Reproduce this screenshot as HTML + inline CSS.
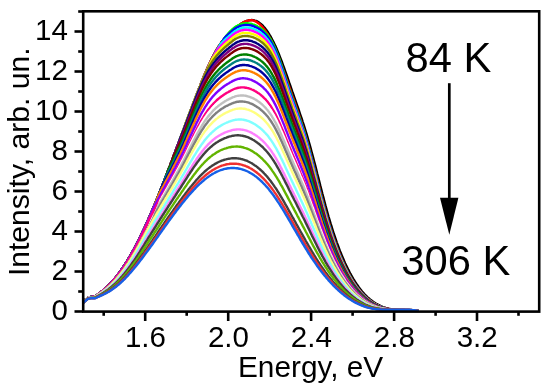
<!DOCTYPE html>
<html><head><meta charset="utf-8"><title>Intensity vs Energy</title>
<style>
html,body{margin:0;padding:0;background:#fff;}
body{width:550px;height:389px;overflow:hidden;}
svg{display:block;}
svg text{font-family:"Liberation Sans",Arial,sans-serif;fill:#000;}
</style></head><body>
<svg width="550" height="389" viewBox="0 0 550 389">
<rect width="550" height="389" fill="#fff"/>
<g fill="none" stroke-width="2.4" stroke-linejoin="round" stroke-linecap="round">
<polyline points="83.8,301.5 84.8,300.4 85.9,299.5 86.9,298.6 88.0,297.9 89.0,297.6 90.0,297.4 91.1,297.2 92.1,297.1 93.1,297.0 94.2,296.9 95.2,296.6 96.3,296.0 97.3,295.2 98.3,294.4 99.4,293.7 100.4,292.9 101.4,292.2 102.5,291.3 103.5,290.4 104.5,289.5 105.6,288.6 106.6,287.6 107.7,286.7 108.7,285.6 109.7,284.5 110.8,283.4 111.8,282.3 112.8,281.1 113.9,279.9 114.9,278.6 116.0,277.3 117.0,276.0 118.0,274.6 119.1,273.2 120.1,271.8 121.1,270.3 122.2,268.8 123.2,267.2 124.3,265.6 125.3,264.0 126.3,262.4 127.4,260.7 128.4,258.9 129.4,257.2 130.5,255.4 131.5,253.6 132.5,251.7 133.6,249.8 134.6,247.9 135.7,245.9 136.7,243.9 137.7,241.9 138.8,239.8 139.8,237.7 140.8,235.6 141.9,233.4 142.9,231.2 144.0,229.0 145.0,226.8 146.0,224.5 147.1,222.2 148.1,219.9 149.1,217.6 150.2,215.2 151.2,212.8 152.3,210.4 153.3,208.0 154.3,205.5 155.4,203.1 156.4,200.6 157.4,198.1 158.5,195.5 159.5,193.0 160.5,190.4 161.6,187.8 162.6,185.2 163.7,182.6 164.7,180.0 165.7,177.3 166.8,174.7 167.8,172.0 168.8,169.3 169.9,166.6 170.9,163.9 172.0,161.1 173.0,158.4 174.0,155.7 175.1,152.9 176.1,150.1 177.1,147.4 178.2,144.6 179.2,141.8 180.3,139.0 181.3,136.2 182.3,133.4 183.4,130.6 184.4,127.7 185.4,124.9 186.5,122.1 187.5,119.3 188.5,116.4 189.6,113.6 190.6,110.8 191.7,108.0 192.7,105.2 193.7,102.4 194.8,99.6 195.8,96.8 196.8,94.1 197.9,91.4 198.9,88.7 200.0,86.1 201.0,83.4 202.0,80.8 203.1,78.3 204.1,75.8 205.1,73.3 206.2,70.9 207.2,68.5 208.2,66.2 209.3,63.9 210.3,61.7 211.4,59.6 212.4,57.5 213.4,55.5 214.5,53.5 215.5,51.7 216.5,49.9 217.6,48.1 218.6,46.5 219.7,44.9 220.7,43.5 221.7,42.0 222.8,40.7 223.8,39.4 224.8,38.2 225.9,37.0 226.9,35.9 228.0,34.8 229.0,33.8 230.0,32.8 231.1,31.8 232.1,30.9 233.1,30.0 234.2,29.0 235.2,28.2 236.2,27.3 237.3,26.5 238.3,25.7 239.4,24.9 240.4,24.2 241.4,23.5 242.5,22.9 243.5,22.3 244.5,21.8 245.6,21.3 246.6,20.9 247.7,20.6 248.7,20.3 249.7,20.2 250.8,20.1 251.8,20.0 252.8,20.1 253.9,20.3 254.9,20.6 256.0,20.9 257.0,21.4 258.0,21.9 259.1,22.6 260.1,23.4 261.1,24.2 262.2,25.2 263.2,26.2 264.2,27.4 265.3,28.6 266.3,30.0 267.4,31.5 268.4,33.0 269.4,34.7 270.5,36.4 271.5,38.3 272.5,40.2 273.6,42.3 274.6,44.4 275.7,46.6 276.7,49.0 277.7,51.4 278.8,54.0 279.8,56.6 280.8,59.2 281.9,62.0 282.9,64.8 284.0,67.7 285.0,70.6 286.0,73.5 287.1,76.5 288.1,79.5 289.1,82.5 290.2,85.5 291.2,88.4 292.2,91.4 293.3,94.4 294.3,97.3 295.4,100.3 296.4,103.3 297.4,106.2 298.5,109.2 299.5,112.3 300.5,115.3 301.6,118.4 302.6,121.6 303.7,124.8 304.7,128.1 305.7,131.4 306.8,134.8 307.8,138.3 308.8,141.9 309.9,145.6 310.9,149.3 311.9,153.2 313.0,157.1 314.0,161.0 315.1,165.0 316.1,169.1 317.1,173.2 318.2,177.2 319.2,181.3 320.2,185.4 321.3,189.5 322.3,193.6 323.4,197.6 324.4,201.5 325.4,205.4 326.5,209.3 327.5,213.0 328.5,216.6 329.6,220.2 330.6,223.7 331.7,227.0 332.7,230.3 333.7,233.5 334.8,236.6 335.8,239.7 336.8,242.6 337.9,245.4 338.9,248.2 339.9,250.9 341.0,253.5 342.0,256.1 343.1,258.5 344.1,260.9 345.1,263.2 346.2,265.5 347.2,267.6 348.2,269.7 349.3,271.7 350.3,273.7 351.4,275.6 352.4,277.4 353.4,279.2 354.5,280.8 355.5,282.5 356.5,284.0 357.6,285.5 358.6,287.0 359.7,288.4 360.7,289.7 361.7,291.0 362.8,292.2 363.8,293.4 364.8,294.5 365.9,295.6 366.9,296.6 367.9,297.6 369.0,298.5 370.0,299.4 371.1,300.2 372.1,301.0 373.1,301.7 374.2,302.5 375.2,303.1 376.2,303.7 377.3,304.3 378.3,304.9 379.4,305.4 380.4,305.9 381.4,306.3 382.5,306.8 383.5,307.2 384.5,307.5 385.6,307.9 386.6,308.2 387.7,308.4 388.7,308.7 389.7,308.9 390.8,309.1 391.8,309.3 392.8,309.5 393.9,309.6 394.9,309.8 395.9,309.9 397.0,310.0 398.0,310.1 399.1,310.2 400.1,310.2 401.1,310.3 402.2,310.3 403.2,310.4 404.2,310.4 405.3,310.4 406.3,310.4 407.4,310.5 408.4,310.5 409.4,310.5 410.5,310.5 411.5,310.5 412.5,310.6 413.6,310.6 414.6,310.6 415.6,310.6 416.7,310.7 417.7,310.7" stroke="#000000"/>
<polyline points="83.8,301.5 84.8,300.4 85.9,299.5 86.9,298.6 88.0,297.9 89.0,297.6 90.0,297.4 91.1,297.2 92.1,297.1 93.1,297.0 94.2,296.9 95.2,296.6 96.3,296.0 97.3,295.2 98.3,294.4 99.4,293.7 100.4,292.9 101.4,292.2 102.5,291.3 103.5,290.4 104.5,289.5 105.6,288.6 106.6,287.6 107.7,286.7 108.7,285.6 109.7,284.5 110.8,283.4 111.8,282.3 112.8,281.1 113.9,279.9 114.9,278.6 116.0,277.3 117.0,276.0 118.0,274.6 119.1,273.2 120.1,271.8 121.1,270.3 122.2,268.8 123.2,267.2 124.3,265.6 125.3,264.0 126.3,262.4 127.4,260.7 128.4,258.9 129.4,257.2 130.5,255.4 131.5,253.6 132.5,251.7 133.6,249.8 134.6,247.9 135.7,245.9 136.7,243.9 137.7,241.9 138.8,239.8 139.8,237.7 140.8,235.6 141.9,233.4 142.9,231.2 144.0,229.0 145.0,226.8 146.0,224.5 147.1,222.2 148.1,219.9 149.1,217.6 150.2,215.2 151.2,212.8 152.3,210.4 153.3,208.0 154.3,205.5 155.4,203.1 156.4,200.6 157.4,198.1 158.5,195.5 159.5,193.0 160.5,190.4 161.6,187.8 162.6,185.2 163.7,182.6 164.7,180.0 165.7,177.3 166.8,174.7 167.8,172.0 168.8,169.3 169.9,166.6 170.9,163.9 172.0,161.1 173.0,158.4 174.0,155.7 175.1,152.9 176.1,150.1 177.1,147.4 178.2,144.6 179.2,141.8 180.3,139.0 181.3,136.2 182.3,133.4 183.4,130.6 184.4,127.7 185.4,124.9 186.5,122.1 187.5,119.3 188.5,116.4 189.6,113.6 190.6,110.8 191.7,108.0 192.7,105.2 193.7,102.4 194.8,99.6 195.8,96.8 196.8,94.1 197.9,91.4 198.9,88.7 200.0,86.1 201.0,83.4 202.0,80.8 203.1,78.3 204.1,75.8 205.1,73.3 206.2,70.9 207.2,68.5 208.2,66.2 209.3,63.9 210.3,61.7 211.4,59.6 212.4,57.5 213.4,55.5 214.5,53.5 215.5,51.7 216.5,49.9 217.6,48.1 218.6,46.5 219.7,44.9 220.7,43.5 221.7,42.0 222.8,40.7 223.8,39.4 224.8,38.2 225.9,37.0 226.9,35.9 228.0,34.8 229.0,33.8 230.0,32.8 231.1,31.8 232.1,30.9 233.1,30.0 234.2,29.0 235.2,28.2 236.2,27.3 237.3,26.5 238.3,25.7 239.4,24.9 240.4,24.2 241.4,23.5 242.5,22.9 243.5,22.3 244.5,21.8 245.6,21.3 246.6,20.9 247.7,20.6 248.7,20.3 249.7,20.2 250.8,20.1 251.8,20.2 252.8,20.4 253.9,20.7 254.9,21.1 256.0,21.6 257.0,22.2 258.0,22.9 259.1,23.7 260.1,24.6 261.1,25.6 262.2,26.7 263.2,27.9 264.2,29.2 265.3,30.6 266.3,32.1 267.4,33.7 268.4,35.4 269.4,37.1 270.5,39.0 271.5,41.0 272.5,43.1 273.6,45.3 274.6,47.6 275.7,50.0 276.7,52.4 277.7,55.0 278.8,57.6 279.8,60.4 280.8,63.1 281.9,66.0 282.9,68.8 284.0,71.8 285.0,74.7 286.0,77.7 287.1,80.7 288.1,83.7 289.1,86.6 290.2,89.6 291.2,92.6 292.2,95.6 293.3,98.5 294.3,101.5 295.4,104.4 296.4,107.4 297.4,110.4 298.5,113.5 299.5,116.6 300.5,119.7 301.6,122.9 302.6,126.1 303.7,129.4 304.7,132.8 305.7,136.2 306.8,139.7 307.8,143.4 308.8,147.1 309.9,150.9 310.9,154.7 311.9,158.6 313.0,162.6 314.0,166.6 315.1,170.7 316.1,174.8 317.1,178.9 318.2,183.0 319.2,187.1 320.2,191.1 321.3,195.2 322.3,199.2 323.4,203.1 324.4,207.0 325.4,210.8 326.5,214.5 327.5,218.1 328.5,221.6 329.6,225.0 330.6,228.3 331.7,231.6 332.7,234.8 333.7,237.8 334.8,240.8 335.8,243.7 336.8,246.6 337.9,249.3 338.9,252.0 339.9,254.5 341.0,257.1 342.0,259.5 343.1,261.8 344.1,264.1 345.1,266.3 346.2,268.5 347.2,270.5 348.2,272.5 349.3,274.4 350.3,276.3 351.4,278.1 352.4,279.8 353.4,281.5 354.5,283.1 355.5,284.6 356.5,286.1 357.6,287.6 358.6,288.9 359.7,290.2 360.7,291.5 361.7,292.7 362.8,293.8 363.8,294.9 364.8,296.0 365.9,297.0 366.9,297.9 367.9,298.8 369.0,299.7 370.0,300.5 371.1,301.3 372.1,302.0 373.1,302.7 374.2,303.4 375.2,304.0 376.2,304.6 377.3,305.1 378.3,305.6 379.4,306.1 380.4,306.5 381.4,306.9 382.5,307.3 383.5,307.7 384.5,308.0 385.6,308.3 386.6,308.5 387.7,308.8 388.7,309.0 389.7,309.2 390.8,309.4 391.8,309.6 392.8,309.7 393.9,309.8 394.9,309.9 395.9,310.0 397.0,310.1 398.0,310.2 399.1,310.3 400.1,310.3 401.1,310.3 402.2,310.4 403.2,310.4 404.2,310.4 405.3,310.5 406.3,310.5 407.4,310.5 408.4,310.5 409.4,310.5 410.5,310.5 411.5,310.6 412.5,310.6 413.6,310.6 414.6,310.7 415.6,310.7 416.7,310.7 417.7,310.7" stroke="#FF0000"/>
<polyline points="83.8,301.6 84.8,300.5 85.9,299.5 86.9,298.6 88.0,297.8 89.0,297.4 90.0,297.2 91.1,297.0 92.1,296.9 93.1,296.7 94.2,296.6 95.2,296.3 96.3,295.7 97.3,294.9 98.3,294.1 99.4,293.4 100.4,292.6 101.4,291.8 102.5,291.0 103.5,290.1 104.5,289.2 105.6,288.3 106.6,287.3 107.7,286.4 108.7,285.3 109.7,284.3 110.8,283.2 111.8,282.1 112.8,280.9 113.9,279.7 114.9,278.5 116.0,277.2 117.0,275.9 118.0,274.6 119.1,273.2 120.1,271.8 121.1,270.3 122.2,268.8 123.2,267.3 124.3,265.8 125.3,264.2 126.3,262.5 127.4,260.9 128.4,259.2 129.4,257.4 130.5,255.7 131.5,253.9 132.5,252.0 133.6,250.1 134.6,248.2 135.7,246.3 136.7,244.3 137.7,242.3 138.8,240.2 139.8,238.1 140.8,236.0 141.9,233.8 142.9,231.6 144.0,229.4 145.0,227.2 146.0,224.9 147.1,222.6 148.1,220.2 149.1,217.9 150.2,215.5 151.2,213.1 152.3,210.6 153.3,208.2 154.3,205.7 155.4,203.2 156.4,200.6 157.4,198.1 158.5,195.5 159.5,192.9 160.5,190.3 161.6,187.7 162.6,185.0 163.7,182.3 164.7,179.7 165.7,177.0 166.8,174.3 167.8,171.5 168.8,168.8 169.9,166.1 170.9,163.3 172.0,160.6 173.0,157.8 174.0,155.0 175.1,152.2 176.1,149.5 177.1,146.7 178.2,143.9 179.2,141.1 180.3,138.3 181.3,135.5 182.3,132.7 183.4,129.9 184.4,127.1 185.4,124.3 186.5,121.5 187.5,118.7 188.5,116.0 189.6,113.2 190.6,110.5 191.7,107.7 192.7,105.0 193.7,102.3 194.8,99.7 195.8,97.0 196.8,94.4 197.9,91.8 198.9,89.2 200.0,86.7 201.0,84.2 202.0,81.7 203.1,79.2 204.1,76.8 205.1,74.4 206.2,72.1 207.2,69.8 208.2,67.5 209.3,65.3 210.3,63.1 211.4,61.0 212.4,58.9 213.4,56.8 214.5,54.8 215.5,52.9 216.5,50.9 217.6,49.1 218.6,47.3 219.7,45.6 220.7,43.9 221.7,42.3 222.8,40.7 223.8,39.2 224.8,37.7 225.9,36.4 226.9,35.0 228.0,33.8 229.0,32.6 230.0,31.5 231.1,30.5 232.1,29.5 233.1,28.6 234.2,27.8 235.2,27.0 236.2,26.4 237.3,25.8 238.3,25.2 239.4,24.8 240.4,24.4 241.4,24.0 242.5,23.8 243.5,23.5 244.5,23.4 245.6,23.3 246.6,23.3 247.7,23.3 248.7,23.4 249.7,23.6 250.8,23.8 251.8,24.0 252.8,24.4 253.9,24.7 254.9,25.1 256.0,25.6 257.0,26.1 258.0,26.7 259.1,27.3 260.1,27.9 261.1,28.7 262.2,29.5 263.2,30.3 264.2,31.3 265.3,32.4 266.3,33.5 267.4,34.8 268.4,36.2 269.4,37.7 270.5,39.3 271.5,41.1 272.5,43.0 273.6,45.1 274.6,47.3 275.7,49.7 276.7,52.2 277.7,54.8 278.8,57.6 279.8,60.5 280.8,63.5 281.9,66.6 282.9,69.7 284.0,72.8 285.0,76.0 286.0,79.2 287.1,82.3 288.1,85.5 289.1,88.6 290.2,91.7 291.2,94.7 292.2,97.6 293.3,100.5 294.3,103.4 295.4,106.3 296.4,109.2 297.4,112.1 298.5,115.0 299.5,118.0 300.5,121.0 301.6,124.0 302.6,127.2 303.7,130.4 304.7,133.7 305.7,137.1 306.8,140.7 307.8,144.3 308.8,148.1 309.9,152.0 310.9,155.9 311.9,159.9 313.0,164.0 314.0,168.1 315.1,172.2 316.1,176.4 317.1,180.5 318.2,184.6 319.2,188.8 320.2,192.8 321.3,196.9 322.3,200.8 323.4,204.7 324.4,208.6 325.4,212.3 326.5,216.0 327.5,219.6 328.5,223.1 329.6,226.4 330.6,229.7 331.7,233.0 332.7,236.1 333.7,239.1 334.8,242.1 335.8,244.9 336.8,247.7 337.9,250.4 338.9,253.1 339.9,255.6 341.0,258.1 342.0,260.5 343.1,262.8 344.1,265.0 345.1,267.2 346.2,269.3 347.2,271.4 348.2,273.3 349.3,275.2 350.3,277.0 351.4,278.8 352.4,280.5 353.4,282.2 354.5,283.7 355.5,285.2 356.5,286.7 357.6,288.1 358.6,289.4 359.7,290.7 360.7,292.0 361.7,293.1 362.8,294.3 363.8,295.3 364.8,296.4 365.9,297.4 366.9,298.3 367.9,299.2 369.0,300.0 370.0,300.8 371.1,301.6 372.1,302.3 373.1,303.0 374.2,303.6 375.2,304.2 376.2,304.8 377.3,305.3 378.3,305.8 379.4,306.2 380.4,306.7 381.4,307.1 382.5,307.4 383.5,307.8 384.5,308.1 385.6,308.4 386.6,308.6 387.7,308.9 388.7,309.1 389.7,309.3 390.8,309.5 391.8,309.6 392.8,309.8 393.9,309.9 394.9,310.0 395.9,310.1 397.0,310.2 398.0,310.2 399.1,310.3 400.1,310.3 401.1,310.4 402.2,310.4 403.2,310.5 404.2,310.5 405.3,310.5 406.3,310.5 407.4,310.5 408.4,310.5 409.4,310.6 410.5,310.6 411.5,310.6 412.5,310.6 413.6,310.7 414.6,310.7 415.6,310.7 416.7,310.8 417.7,310.9" stroke="#00FF00"/>
<polyline points="83.8,301.6 84.8,300.5 85.9,299.5 86.9,298.6 88.0,297.8 89.0,297.4 90.0,297.2 91.1,297.0 92.1,296.9 93.1,296.7 94.2,296.6 95.2,296.3 96.3,295.7 97.3,294.9 98.3,294.1 99.4,293.4 100.4,292.6 101.4,291.8 102.5,291.0 103.5,290.1 104.5,289.2 105.6,288.3 106.6,287.3 107.7,286.4 108.7,285.3 109.7,284.3 110.8,283.2 111.8,282.1 112.8,280.9 113.9,279.7 114.9,278.5 116.0,277.2 117.0,275.9 118.0,274.6 119.1,273.2 120.1,271.8 121.1,270.3 122.2,268.8 123.2,267.3 124.3,265.8 125.3,264.2 126.3,262.5 127.4,260.9 128.4,259.2 129.4,257.4 130.5,255.7 131.5,253.9 132.5,252.0 133.6,250.1 134.6,248.2 135.7,246.3 136.7,244.3 137.7,242.3 138.8,240.2 139.8,238.1 140.8,236.0 141.9,233.8 142.9,231.6 144.0,229.4 145.0,227.2 146.0,224.9 147.1,222.6 148.1,220.2 149.1,217.9 150.2,215.5 151.2,213.1 152.3,210.6 153.3,208.2 154.3,205.7 155.4,203.2 156.4,200.6 157.4,198.1 158.5,195.5 159.5,192.9 160.5,190.3 161.6,187.7 162.6,185.0 163.7,182.3 164.7,179.7 165.7,177.0 166.8,174.3 167.8,171.5 168.8,168.8 169.9,166.1 170.9,163.3 172.0,160.6 173.0,157.8 174.0,155.0 175.1,152.2 176.1,149.5 177.1,146.7 178.2,143.9 179.2,141.1 180.3,138.3 181.3,135.5 182.3,132.7 183.4,129.9 184.4,127.1 185.4,124.3 186.5,121.5 187.5,118.7 188.5,116.0 189.6,113.2 190.6,110.5 191.7,107.7 192.7,105.0 193.7,102.3 194.8,99.7 195.8,97.0 196.8,94.4 197.9,91.8 198.9,89.2 200.0,86.7 201.0,84.2 202.0,81.7 203.1,79.2 204.1,76.8 205.1,74.4 206.2,72.1 207.2,69.8 208.2,67.5 209.3,65.3 210.3,63.1 211.4,61.0 212.4,58.9 213.4,56.8 214.5,54.8 215.5,52.9 216.5,50.9 217.6,49.1 218.6,47.3 219.7,45.6 220.7,43.9 221.7,42.3 222.8,40.7 223.8,39.2 224.8,37.7 225.9,36.5 226.9,35.6 228.0,34.6 229.0,33.7 230.0,32.8 231.1,31.9 232.1,31.0 233.1,30.1 234.2,29.3 235.2,28.6 236.2,27.9 237.3,27.3 238.3,26.8 239.4,26.3 240.4,25.9 241.4,25.6 242.5,25.4 243.5,25.2 244.5,25.0 245.6,25.0 246.6,24.9 247.7,25.0 248.7,25.1 249.7,25.2 250.8,25.4 251.8,25.7 252.8,26.0 253.9,26.4 254.9,26.8 256.0,27.3 257.0,27.8 258.0,28.3 259.1,28.9 260.1,29.6 261.1,30.3 262.2,31.1 263.2,32.0 264.2,33.0 265.3,34.1 266.3,35.2 267.4,36.5 268.4,37.9 269.4,39.4 270.5,41.0 271.5,42.8 272.5,44.7 273.6,46.7 274.6,48.9 275.7,51.3 276.7,53.8 277.7,56.5 278.8,59.2 279.8,62.1 280.8,65.1 281.9,68.1 282.9,71.2 284.0,74.3 285.0,77.5 286.0,80.7 287.1,83.8 288.1,87.0 289.1,90.1 290.2,93.1 291.2,96.1 292.2,99.0 293.3,101.9 294.3,104.8 295.4,107.7 296.4,110.6 297.4,113.5 298.5,116.4 299.5,119.3 300.5,122.3 301.6,125.3 302.6,128.5 303.7,131.7 304.7,135.0 305.7,138.3 306.8,141.9 307.8,145.5 308.8,149.2 309.9,153.1 310.9,157.0 311.9,161.0 313.0,165.1 314.0,169.1 315.1,173.2 316.1,177.4 317.1,181.5 318.2,185.6 319.2,189.6 320.2,193.7 321.3,197.7 322.3,201.6 323.4,205.5 324.4,209.3 325.4,213.1 326.5,216.7 327.5,220.2 328.5,223.7 329.6,227.1 330.6,230.3 331.7,233.5 332.7,236.6 333.7,239.6 334.8,242.6 335.8,245.4 336.8,248.2 337.9,250.9 338.9,253.5 339.9,256.0 341.0,258.5 342.0,260.8 343.1,263.1 344.1,265.4 345.1,267.5 346.2,269.6 347.2,271.6 348.2,273.6 349.3,275.5 350.3,277.3 351.4,279.0 352.4,280.7 353.4,282.4 354.5,283.9 355.5,285.4 356.5,286.9 357.6,288.3 358.6,289.6 359.7,290.9 360.7,292.1 361.7,293.3 362.8,294.4 363.8,295.5 364.8,296.5 365.9,297.5 366.9,298.4 367.9,299.3 369.0,300.1 370.0,300.9 371.1,301.6 372.1,302.4 373.1,303.0 374.2,303.7 375.2,304.2 376.2,304.8 377.3,305.3 378.3,305.8 379.4,306.3 380.4,306.7 381.4,307.1 382.5,307.5 383.5,307.8 384.5,308.1 385.6,308.4 386.6,308.7 387.7,308.9 388.7,309.1 389.7,309.3 390.8,309.5 391.8,309.6 392.8,309.8 393.9,309.9 394.9,310.0 395.9,310.1 397.0,310.2 398.0,310.2 399.1,310.3 400.1,310.3 401.1,310.4 402.2,310.4 403.2,310.4 404.2,310.5 405.3,310.5 406.3,310.5 407.4,310.5 408.4,310.5 409.4,310.6 410.5,310.6 411.5,310.6 412.5,310.6 413.6,310.7 414.6,310.7 415.6,310.7 416.7,310.8 417.7,310.9" stroke="#0000FF"/>
<polyline points="83.8,301.6 84.8,300.5 85.9,299.5 86.9,298.6 88.0,297.8 89.0,297.4 90.0,297.2 91.1,297.0 92.1,296.9 93.1,296.7 94.2,296.6 95.2,296.3 96.3,295.7 97.3,294.9 98.3,294.1 99.4,293.4 100.4,292.6 101.4,291.8 102.5,291.0 103.5,290.1 104.5,289.2 105.6,288.3 106.6,287.3 107.7,286.4 108.7,285.3 109.7,284.3 110.8,283.2 111.8,282.1 112.8,280.9 113.9,279.7 114.9,278.5 116.0,277.2 117.0,275.9 118.0,274.6 119.1,273.2 120.1,271.8 121.1,270.3 122.2,268.8 123.2,267.3 124.3,265.8 125.3,264.2 126.3,262.5 127.4,260.9 128.4,259.2 129.4,257.4 130.5,255.7 131.5,253.9 132.5,252.0 133.6,250.1 134.6,248.2 135.7,246.3 136.7,244.3 137.7,242.3 138.8,240.2 139.8,238.1 140.8,236.0 141.9,233.8 142.9,231.6 144.0,229.4 145.0,227.2 146.0,224.9 147.1,222.6 148.1,220.2 149.1,217.9 150.2,215.5 151.2,213.1 152.3,210.6 153.3,208.2 154.3,205.7 155.4,203.2 156.4,200.6 157.4,198.1 158.5,195.5 159.5,192.9 160.5,190.3 161.6,187.7 162.6,185.0 163.7,182.3 164.7,179.7 165.7,177.0 166.8,174.3 167.8,171.5 168.8,168.8 169.9,166.1 170.9,163.3 172.0,160.6 173.0,157.8 174.0,155.0 175.1,152.2 176.1,149.5 177.1,146.7 178.2,143.9 179.2,141.1 180.3,138.3 181.3,135.5 182.3,132.7 183.4,129.9 184.4,127.1 185.4,124.3 186.5,121.5 187.5,118.7 188.5,116.0 189.6,113.2 190.6,110.5 191.7,107.7 192.7,105.0 193.7,102.3 194.8,99.7 195.8,97.0 196.8,94.4 197.9,91.8 198.9,89.2 200.0,86.7 201.0,84.2 202.0,81.7 203.1,79.2 204.1,76.8 205.1,74.4 206.2,72.1 207.2,69.8 208.2,67.5 209.3,65.3 210.3,63.1 211.4,61.0 212.4,58.9 213.4,56.8 214.5,54.8 215.5,52.9 216.5,50.9 217.6,49.1 218.6,47.3 219.7,45.6 220.7,44.0 221.7,42.9 222.8,41.9 223.8,40.9 224.8,39.9 225.9,38.9 226.9,38.0 228.0,37.1 229.0,36.2 230.0,35.3 231.1,34.4 232.1,33.5 233.1,32.6 234.2,31.8 235.2,31.1 236.2,30.5 237.3,29.9 238.3,29.4 239.4,28.9 240.4,28.5 241.4,28.2 242.5,28.0 243.5,27.8 244.5,27.7 245.6,27.6 246.6,27.6 247.7,27.6 248.7,27.7 249.7,27.9 250.8,28.1 251.8,28.4 252.8,28.7 253.9,29.1 254.9,29.5 256.0,30.0 257.0,30.5 258.0,31.1 259.1,31.7 260.1,32.3 261.1,33.1 262.2,33.9 263.2,34.8 264.2,35.7 265.3,36.8 266.3,38.0 267.4,39.2 268.4,40.6 269.4,42.1 270.5,43.7 271.5,45.5 272.5,47.4 273.6,49.4 274.6,51.6 275.7,54.0 276.7,56.5 277.7,59.1 278.8,61.9 279.8,64.7 280.8,67.6 281.9,70.7 282.9,73.7 284.0,76.8 285.0,80.0 286.0,83.1 287.1,86.2 288.1,89.3 289.1,92.4 290.2,95.4 291.2,98.4 292.2,101.3 293.3,104.2 294.3,107.1 295.4,109.9 296.4,112.8 297.4,115.7 298.5,118.5 299.5,121.5 300.5,124.4 301.6,127.5 302.6,130.5 303.7,133.7 304.7,137.0 305.7,140.4 306.8,143.8 307.8,147.4 308.8,151.1 309.9,155.0 310.9,158.8 311.9,162.8 313.0,166.8 314.0,170.8 315.1,174.9 316.1,178.9 317.1,183.0 318.2,187.0 319.2,191.1 320.2,195.1 321.3,199.0 322.3,202.9 323.4,206.8 324.4,210.5 325.4,214.2 326.5,217.8 327.5,221.3 328.5,224.7 329.6,228.0 330.6,231.3 331.7,234.4 332.7,237.5 333.7,240.5 334.8,243.4 335.8,246.2 336.8,248.9 337.9,251.6 338.9,254.2 339.9,256.7 341.0,259.1 342.0,261.4 343.1,263.7 344.1,265.9 345.1,268.1 346.2,270.1 347.2,272.1 348.2,274.0 349.3,275.9 350.3,277.7 351.4,279.4 352.4,281.1 353.4,282.7 354.5,284.3 355.5,285.7 356.5,287.2 357.6,288.6 358.6,289.9 359.7,291.1 360.7,292.3 361.7,293.5 362.8,294.6 363.8,295.7 364.8,296.7 365.9,297.6 366.9,298.5 367.9,299.4 369.0,300.2 370.0,301.0 371.1,301.8 372.1,302.5 373.1,303.1 374.2,303.7 375.2,304.3 376.2,304.9 377.3,305.4 378.3,305.9 379.4,306.3 380.4,306.7 381.4,307.1 382.5,307.5 383.5,307.8 384.5,308.1 385.6,308.4 386.6,308.7 387.7,308.9 388.7,309.1 389.7,309.3 390.8,309.5 391.8,309.6 392.8,309.8 393.9,309.9 394.9,310.0 395.9,310.1 397.0,310.2 398.0,310.2 399.1,310.3 400.1,310.3 401.1,310.4 402.2,310.4 403.2,310.4 404.2,310.5 405.3,310.5 406.3,310.5 407.4,310.5 408.4,310.5 409.4,310.5 410.5,310.6 411.5,310.6 412.5,310.6 413.6,310.6 414.6,310.7 415.6,310.7 416.7,310.8 417.7,310.9" stroke="#00FFFF"/>
<polyline points="83.8,301.6 84.8,300.5 85.9,299.5 86.9,298.6 88.0,297.8 89.0,297.4 90.0,297.2 91.1,297.0 92.1,296.9 93.1,296.7 94.2,296.6 95.2,296.3 96.3,295.7 97.3,294.9 98.3,294.1 99.4,293.4 100.4,292.6 101.4,291.8 102.5,291.0 103.5,290.1 104.5,289.2 105.6,288.3 106.6,287.3 107.7,286.4 108.7,285.3 109.7,284.3 110.8,283.2 111.8,282.1 112.8,280.9 113.9,279.7 114.9,278.5 116.0,277.2 117.0,275.9 118.0,274.6 119.1,273.2 120.1,271.8 121.1,270.3 122.2,268.8 123.2,267.3 124.3,265.8 125.3,264.2 126.3,262.5 127.4,260.9 128.4,259.2 129.4,257.4 130.5,255.7 131.5,253.9 132.5,252.0 133.6,250.1 134.6,248.2 135.7,246.3 136.7,244.3 137.7,242.3 138.8,240.2 139.8,238.1 140.8,236.0 141.9,233.8 142.9,231.6 144.0,229.4 145.0,227.2 146.0,224.9 147.1,222.6 148.1,220.2 149.1,217.9 150.2,215.5 151.2,213.1 152.3,210.6 153.3,208.2 154.3,205.7 155.4,203.2 156.4,200.6 157.4,198.1 158.5,195.5 159.5,192.9 160.5,190.3 161.6,187.7 162.6,185.0 163.7,182.3 164.7,179.7 165.7,177.0 166.8,174.3 167.8,171.5 168.8,168.8 169.9,166.1 170.9,163.3 172.0,160.6 173.0,157.8 174.0,155.0 175.1,152.2 176.1,149.5 177.1,146.7 178.2,143.9 179.2,141.1 180.3,138.3 181.3,135.5 182.3,132.7 183.4,129.9 184.4,127.1 185.4,124.3 186.5,121.5 187.5,118.7 188.5,116.0 189.6,113.2 190.6,110.5 191.7,107.7 192.7,105.0 193.7,102.3 194.8,99.7 195.8,97.0 196.8,94.4 197.9,91.8 198.9,89.2 200.0,86.7 201.0,84.2 202.0,81.7 203.1,79.2 204.1,76.8 205.1,74.4 206.2,72.1 207.2,69.8 208.2,67.5 209.3,65.3 210.3,63.1 211.4,61.0 212.4,58.9 213.4,56.8 214.5,54.8 215.5,52.9 216.5,50.9 217.6,49.4 218.6,48.2 219.7,47.1 220.7,46.0 221.7,44.9 222.8,43.9 223.8,42.9 224.8,41.9 225.9,41.0 226.9,40.0 228.0,39.1 229.0,38.2 230.0,37.4 231.1,36.5 232.1,35.6 233.1,34.8 234.2,34.0 235.2,33.3 236.2,32.6 237.3,32.1 238.3,31.6 239.4,31.1 240.4,30.7 241.4,30.4 242.5,30.2 243.5,30.0 244.5,29.9 245.6,29.8 246.6,29.8 247.7,29.9 248.7,30.0 249.7,30.2 250.8,30.4 251.8,30.7 252.8,31.0 253.9,31.4 254.9,31.8 256.0,32.3 257.0,32.8 258.0,33.4 259.1,34.0 260.1,34.7 261.1,35.4 262.2,36.2 263.2,37.1 264.2,38.1 265.3,39.1 266.3,40.3 267.4,41.6 268.4,42.9 269.4,44.4 270.5,46.0 271.5,47.8 272.5,49.7 273.6,51.7 274.6,53.9 275.7,56.2 276.7,58.7 277.7,61.3 278.8,64.1 279.8,66.9 280.8,69.8 281.9,72.8 282.9,75.9 284.0,78.9 285.0,82.0 286.0,85.2 287.1,88.3 288.1,91.4 289.1,94.4 290.2,97.4 291.2,100.4 292.2,103.3 293.3,106.2 294.3,109.0 295.4,111.8 296.4,114.7 297.4,117.5 298.5,120.4 299.5,123.3 300.5,126.2 301.6,129.2 302.6,132.3 303.7,135.5 304.7,138.7 305.7,142.0 306.8,145.5 307.8,149.1 308.8,152.7 309.9,156.5 310.9,160.4 311.9,164.3 313.0,168.2 314.0,172.2 315.1,176.3 316.1,180.3 317.1,184.3 318.2,188.3 319.2,192.3 320.2,196.2 321.3,200.2 322.3,204.0 323.4,207.8 324.4,211.5 325.4,215.2 326.5,218.7 327.5,222.2 328.5,225.6 329.6,228.9 330.6,232.1 331.7,235.2 332.7,238.2 333.7,241.2 334.8,244.1 335.8,246.8 336.8,249.6 337.9,252.2 338.9,254.7 339.9,257.2 341.0,259.6 342.0,261.9 343.1,264.2 344.1,266.4 345.1,268.5 346.2,270.5 347.2,272.5 348.2,274.4 349.3,276.3 350.3,278.0 351.4,279.8 352.4,281.4 353.4,283.0 354.5,284.5 355.5,286.0 356.5,287.4 357.6,288.8 358.6,290.1 359.7,291.3 360.7,292.5 361.7,293.7 362.8,294.8 363.8,295.8 364.8,296.8 365.9,297.8 366.9,298.7 367.9,299.5 369.0,300.4 370.0,301.1 371.1,301.9 372.1,302.6 373.1,303.2 374.2,303.8 375.2,304.4 376.2,304.9 377.3,305.5 378.3,305.9 379.4,306.4 380.4,306.8 381.4,307.2 382.5,307.5 383.5,307.9 384.5,308.2 385.6,308.4 386.6,308.7 387.7,308.9 388.7,309.1 389.7,309.3 390.8,309.5 391.8,309.6 392.8,309.8 393.9,309.9 394.9,310.0 395.9,310.1 397.0,310.2 398.0,310.2 399.1,310.3 400.1,310.3 401.1,310.4 402.2,310.4 403.2,310.4 404.2,310.4 405.3,310.5 406.3,310.5 407.4,310.5 408.4,310.5 409.4,310.5 410.5,310.5 411.5,310.6 412.5,310.6 413.6,310.6 414.6,310.7 415.6,310.7 416.7,310.8 417.7,310.9" stroke="#FF00FF"/>
<polyline points="83.8,301.6 84.8,300.5 85.9,299.5 86.9,298.6 88.0,297.8 89.0,297.4 90.0,297.2 91.1,297.0 92.1,296.9 93.1,296.7 94.2,296.6 95.2,296.3 96.3,295.7 97.3,294.9 98.3,294.1 99.4,293.4 100.4,292.6 101.4,291.8 102.5,291.0 103.5,290.1 104.5,289.2 105.6,288.3 106.6,287.3 107.7,286.4 108.7,285.3 109.7,284.3 110.8,283.2 111.8,282.1 112.8,280.9 113.9,279.7 114.9,278.5 116.0,277.2 117.0,275.9 118.0,274.6 119.1,273.2 120.1,271.8 121.1,270.3 122.2,268.8 123.2,267.3 124.3,265.8 125.3,264.2 126.3,262.5 127.4,260.9 128.4,259.2 129.4,257.4 130.5,255.7 131.5,253.9 132.5,252.0 133.6,250.1 134.6,248.2 135.7,246.3 136.7,244.3 137.7,242.3 138.8,240.2 139.8,238.1 140.8,236.0 141.9,233.8 142.9,231.6 144.0,229.4 145.0,227.2 146.0,224.9 147.1,222.6 148.1,220.2 149.1,217.9 150.2,215.5 151.2,213.1 152.3,210.6 153.3,208.2 154.3,205.7 155.4,203.2 156.4,200.6 157.4,198.1 158.5,195.5 159.5,192.9 160.5,190.3 161.6,187.7 162.6,185.0 163.7,182.3 164.7,179.7 165.7,177.0 166.8,174.3 167.8,171.5 168.8,168.8 169.9,166.1 170.9,163.3 172.0,160.6 173.0,157.8 174.0,155.0 175.1,152.2 176.1,149.5 177.1,146.7 178.2,143.9 179.2,141.1 180.3,138.3 181.3,135.5 182.3,132.7 183.4,129.9 184.4,127.1 185.4,124.3 186.5,121.5 187.5,118.7 188.5,116.0 189.6,113.2 190.6,110.5 191.7,107.7 192.7,105.0 193.7,102.3 194.8,99.7 195.8,97.0 196.8,94.4 197.9,91.8 198.9,89.2 200.0,86.7 201.0,84.2 202.0,81.7 203.1,79.2 204.1,76.8 205.1,74.4 206.2,72.1 207.2,69.8 208.2,67.5 209.3,65.3 210.3,63.1 211.4,61.0 212.4,58.9 213.4,57.4 214.5,56.0 215.5,54.6 216.5,53.3 217.6,52.1 218.6,50.9 219.7,49.8 220.7,48.7 221.7,47.6 222.8,46.6 223.8,45.6 224.8,44.7 225.9,43.7 226.9,42.8 228.0,41.9 229.0,41.1 230.0,40.2 231.1,39.3 232.1,38.5 233.1,37.6 234.2,36.9 235.2,36.2 236.2,35.6 237.3,35.0 238.3,34.5 239.4,34.1 240.4,33.7 241.4,33.4 242.5,33.2 243.5,33.0 244.5,32.9 245.6,32.9 246.6,32.9 247.7,33.0 248.7,33.1 249.7,33.3 250.8,33.5 251.8,33.8 252.8,34.1 253.9,34.5 254.9,34.9 256.0,35.4 257.0,35.9 258.0,36.5 259.1,37.1 260.1,37.8 261.1,38.6 262.2,39.4 263.2,40.3 264.2,41.2 265.3,42.3 266.3,43.5 267.4,44.7 268.4,46.1 269.4,47.6 270.5,49.2 271.5,50.9 272.5,52.8 273.6,54.8 274.6,57.0 275.7,59.3 276.7,61.8 277.7,64.4 278.8,67.1 279.8,69.9 280.8,72.8 281.9,75.7 282.9,78.8 284.0,81.8 285.0,84.9 286.0,88.0 287.1,91.1 288.1,94.1 289.1,97.2 290.2,100.1 291.2,103.1 292.2,105.9 293.3,108.8 294.3,111.6 295.4,114.4 296.4,117.2 297.4,120.1 298.5,122.9 299.5,125.8 300.5,128.7 301.6,131.7 302.6,134.7 303.7,137.8 304.7,141.0 305.7,144.4 306.8,147.8 307.8,151.3 308.8,154.9 309.9,158.7 310.9,162.5 311.9,166.3 313.0,170.2 314.0,174.2 315.1,178.1 316.1,182.1 317.1,186.1 318.2,190.0 319.2,193.9 320.2,197.8 321.3,201.7 322.3,205.5 323.4,209.2 324.4,212.9 325.4,216.5 326.5,220.0 327.5,223.4 328.5,226.8 329.6,230.0 330.6,233.2 331.7,236.3 332.7,239.2 333.7,242.2 334.8,245.0 335.8,247.7 336.8,250.4 337.9,253.0 338.9,255.5 339.9,258.0 341.0,260.3 342.0,262.6 343.1,264.8 344.1,267.0 345.1,269.1 346.2,271.1 347.2,273.1 348.2,274.9 349.3,276.8 350.3,278.5 351.4,280.2 352.4,281.8 353.4,283.4 354.5,284.9 355.5,286.4 356.5,287.8 357.6,289.1 358.6,290.4 359.7,291.6 360.7,292.8 361.7,293.9 362.8,295.0 363.8,296.1 364.8,297.0 365.9,298.0 366.9,298.9 367.9,299.7 369.0,300.5 370.0,301.3 371.1,302.0 372.1,302.7 373.1,303.3 374.2,303.9 375.2,304.5 376.2,305.0 377.3,305.5 378.3,306.0 379.4,306.4 380.4,306.9 381.4,307.2 382.5,307.6 383.5,307.9 384.5,308.2 385.6,308.5 386.6,308.7 387.7,308.9 388.7,309.1 389.7,309.3 390.8,309.5 391.8,309.6 392.8,309.8 393.9,309.9 394.9,310.0 395.9,310.1 397.0,310.1 398.0,310.2 399.1,310.3 400.1,310.3 401.1,310.4 402.2,310.4 403.2,310.4 404.2,310.4 405.3,310.4 406.3,310.5 407.4,310.5 408.4,310.5 409.4,310.5 410.5,310.5 411.5,310.6 412.5,310.6 413.6,310.6 414.6,310.7 415.6,310.7 416.7,310.8 417.7,310.9" stroke="#FFFF00"/>
<polyline points="83.8,301.6 84.8,300.5 85.9,299.5 86.9,298.6 88.0,297.8 89.0,297.4 90.0,297.2 91.1,297.0 92.1,296.9 93.1,296.7 94.2,296.6 95.2,296.3 96.3,295.7 97.3,294.9 98.3,294.1 99.4,293.4 100.4,292.6 101.4,291.8 102.5,291.0 103.5,290.1 104.5,289.2 105.6,288.3 106.6,287.3 107.7,286.4 108.7,285.3 109.7,284.3 110.8,283.2 111.8,282.1 112.8,280.9 113.9,279.7 114.9,278.5 116.0,277.2 117.0,275.9 118.0,274.6 119.1,273.2 120.1,271.8 121.1,270.3 122.2,268.8 123.2,267.3 124.3,265.8 125.3,264.2 126.3,262.5 127.4,260.9 128.4,259.2 129.4,257.4 130.5,255.7 131.5,253.9 132.5,252.0 133.6,250.1 134.6,248.2 135.7,246.3 136.7,244.3 137.7,242.3 138.8,240.2 139.8,238.1 140.8,236.0 141.9,233.8 142.9,231.6 144.0,229.4 145.0,227.2 146.0,224.9 147.1,222.6 148.1,220.2 149.1,217.9 150.2,215.5 151.2,213.1 152.3,210.6 153.3,208.2 154.3,205.7 155.4,203.2 156.4,200.6 157.4,198.1 158.5,195.5 159.5,192.9 160.5,190.3 161.6,187.7 162.6,185.0 163.7,182.3 164.7,179.7 165.7,177.0 166.8,174.3 167.8,171.5 168.8,168.8 169.9,166.1 170.9,163.3 172.0,160.6 173.0,157.8 174.0,155.0 175.1,152.2 176.1,149.5 177.1,146.7 178.2,143.9 179.2,141.1 180.3,138.3 181.3,135.5 182.3,132.7 183.4,129.9 184.4,127.1 185.4,124.3 186.5,121.5 187.5,118.7 188.5,116.0 189.6,113.2 190.6,110.5 191.7,107.7 192.7,105.0 193.7,102.3 194.8,99.7 195.8,97.0 196.8,94.4 197.9,91.8 198.9,89.2 200.0,86.7 201.0,84.2 202.0,81.7 203.1,79.2 204.1,76.8 205.1,74.4 206.2,72.1 207.2,69.8 208.2,68.0 209.3,66.2 210.3,64.6 211.4,63.0 212.4,61.4 213.4,60.0 214.5,58.6 215.5,57.2 216.5,55.9 217.6,54.7 218.6,53.6 219.7,52.4 220.7,51.4 221.7,50.3 222.8,49.3 223.8,48.3 224.8,47.4 225.9,46.5 226.9,45.6 228.0,44.7 229.0,43.9 230.0,43.0 231.1,42.2 232.1,41.4 233.1,40.5 234.2,39.8 235.2,39.1 236.2,38.5 237.3,38.0 238.3,37.5 239.4,37.1 240.4,36.7 241.4,36.5 242.5,36.2 243.5,36.1 244.5,36.0 245.6,35.9 246.6,36.0 247.7,36.0 248.7,36.2 249.7,36.4 250.8,36.6 251.8,36.9 252.8,37.2 253.9,37.6 254.9,38.0 256.0,38.5 257.0,39.1 258.0,39.6 259.1,40.3 260.1,41.0 261.1,41.7 262.2,42.5 263.2,43.4 264.2,44.4 265.3,45.5 266.3,46.6 267.4,47.9 268.4,49.3 269.4,50.7 270.5,52.3 271.5,54.1 272.5,55.9 273.6,58.0 274.6,60.1 275.7,62.4 276.7,64.8 277.7,67.4 278.8,70.1 279.8,72.9 280.8,75.7 281.9,78.7 282.9,81.7 284.0,84.7 285.0,87.7 286.0,90.8 287.1,93.8 288.1,96.9 289.1,99.9 290.2,102.8 291.2,105.7 292.2,108.6 293.3,111.4 294.3,114.2 295.4,117.0 296.4,119.8 297.4,122.6 298.5,125.4 299.5,128.3 300.5,131.2 301.6,134.1 302.6,137.1 303.7,140.2 304.7,143.4 305.7,146.7 306.8,150.0 307.8,153.5 308.8,157.1 309.9,160.8 310.9,164.6 311.9,168.4 313.0,172.2 314.0,176.1 315.1,180.0 316.1,183.9 317.1,187.8 318.2,191.7 319.2,195.6 320.2,199.4 321.3,203.2 322.3,207.0 323.4,210.7 324.4,214.3 325.4,217.9 326.5,221.3 327.5,224.7 328.5,228.0 329.6,231.2 330.6,234.3 331.7,237.3 332.7,240.3 333.7,243.1 334.8,245.9 335.8,248.6 336.8,251.3 337.9,253.8 338.9,256.3 339.9,258.7 341.0,261.0 342.0,263.3 343.1,265.5 344.1,267.6 345.1,269.7 346.2,271.7 347.2,273.6 348.2,275.5 349.3,277.2 350.3,279.0 351.4,280.6 352.4,282.3 353.4,283.8 354.5,285.3 355.5,286.7 356.5,288.1 357.6,289.4 358.6,290.7 359.7,291.9 360.7,293.1 361.7,294.2 362.8,295.3 363.8,296.3 364.8,297.3 365.9,298.2 366.9,299.1 367.9,299.9 369.0,300.7 370.0,301.4 371.1,302.1 372.1,302.8 373.1,303.4 374.2,304.0 375.2,304.6 376.2,305.1 377.3,305.6 378.3,306.1 379.4,306.5 380.4,306.9 381.4,307.3 382.5,307.6 383.5,307.9 384.5,308.2 385.6,308.5 386.6,308.7 387.7,309.0 388.7,309.2 389.7,309.3 390.8,309.5 391.8,309.6 392.8,309.8 393.9,309.9 394.9,310.0 395.9,310.1 397.0,310.1 398.0,310.2 399.1,310.3 400.1,310.3 401.1,310.3 402.2,310.4 403.2,310.4 404.2,310.4 405.3,310.4 406.3,310.4 407.4,310.5 408.4,310.5 409.4,310.5 410.5,310.5 411.5,310.5 412.5,310.6 413.6,310.6 414.6,310.7 415.6,310.7 416.7,310.8 417.7,310.9" stroke="#808000"/>
<polyline points="83.8,301.6 84.8,300.5 85.9,299.5 86.9,298.6 88.0,297.8 89.0,297.4 90.0,297.2 91.1,297.0 92.1,296.9 93.1,296.7 94.2,296.6 95.2,296.3 96.3,295.7 97.3,294.9 98.3,294.1 99.4,293.4 100.4,292.6 101.4,291.8 102.5,291.0 103.5,290.1 104.5,289.2 105.6,288.3 106.6,287.3 107.7,286.4 108.7,285.3 109.7,284.3 110.8,283.2 111.8,282.1 112.8,280.9 113.9,279.7 114.9,278.5 116.0,277.2 117.0,275.9 118.0,274.6 119.1,273.2 120.1,271.8 121.1,270.3 122.2,268.8 123.2,267.3 124.3,265.8 125.3,264.2 126.3,262.5 127.4,260.9 128.4,259.2 129.4,257.4 130.5,255.7 131.5,253.9 132.5,252.0 133.6,250.1 134.6,248.2 135.7,246.3 136.7,244.3 137.7,242.3 138.8,240.2 139.8,238.1 140.8,236.0 141.9,233.8 142.9,231.6 144.0,229.4 145.0,227.2 146.0,224.9 147.1,222.6 148.1,220.2 149.1,217.9 150.2,215.5 151.2,213.1 152.3,210.6 153.3,208.2 154.3,205.7 155.4,203.2 156.4,200.6 157.4,198.1 158.5,195.5 159.5,192.9 160.5,190.3 161.6,187.7 162.6,185.0 163.7,182.3 164.7,179.7 165.7,177.0 166.8,174.3 167.8,171.5 168.8,168.8 169.9,166.1 170.9,163.3 172.0,160.6 173.0,157.8 174.0,155.0 175.1,152.2 176.1,149.5 177.1,146.7 178.2,143.9 179.2,141.1 180.3,138.3 181.3,135.6 182.3,133.2 183.4,130.7 184.4,128.1 185.4,125.5 186.5,122.8 187.5,120.0 188.5,117.3 189.6,114.5 190.6,111.8 191.7,109.1 192.7,106.4 193.7,103.8 194.8,101.1 195.8,98.5 196.8,95.9 197.9,93.3 198.9,90.8 200.0,88.3 201.0,85.9 202.0,83.6 203.1,81.3 204.1,79.2 205.1,77.1 206.2,75.2 207.2,73.3 208.2,71.5 209.3,69.7 210.3,68.1 211.4,66.5 212.4,65.0 213.4,63.6 214.5,62.2 215.5,60.9 216.5,59.6 217.6,58.4 218.6,57.3 219.7,56.2 220.7,55.1 221.7,54.1 222.8,53.1 223.8,52.2 224.8,51.3 225.9,50.4 226.9,49.5 228.0,48.7 229.0,47.8 230.0,47.0 231.1,46.2 232.1,45.4 233.1,44.6 234.2,43.9 235.2,43.2 236.2,42.6 237.3,42.1 238.3,41.7 239.4,41.3 240.4,40.9 241.4,40.7 242.5,40.5 243.5,40.3 244.5,40.2 245.6,40.2 246.6,40.3 247.7,40.3 248.7,40.5 249.7,40.7 250.8,40.9 251.8,41.2 252.8,41.6 253.9,42.0 254.9,42.4 256.0,42.9 257.0,43.5 258.0,44.0 259.1,44.7 260.1,45.4 261.1,46.1 262.2,47.0 263.2,47.9 264.2,48.8 265.3,49.9 266.3,51.1 267.4,52.3 268.4,53.7 269.4,55.2 270.5,56.8 271.5,58.5 272.5,60.3 273.6,62.3 274.6,64.4 275.7,66.7 276.7,69.1 277.7,71.7 278.8,74.3 279.8,77.1 280.8,79.9 281.9,82.8 282.9,85.7 284.0,88.7 285.0,91.7 286.0,94.7 287.1,97.7 288.1,100.7 289.1,103.7 290.2,106.6 291.2,109.5 292.2,112.3 293.3,115.1 294.3,117.9 295.4,120.6 296.4,123.4 297.4,126.1 298.5,128.9 299.5,131.8 300.5,134.6 301.6,137.5 302.6,140.5 303.7,143.6 304.7,146.7 305.7,149.9 306.8,153.2 307.8,156.7 308.8,160.2 309.9,163.8 310.9,167.5 311.9,171.2 313.0,175.0 314.0,178.8 315.1,182.6 316.1,186.5 317.1,190.3 318.2,194.1 319.2,197.9 320.2,201.7 321.3,205.4 322.3,209.1 323.4,212.7 324.4,216.2 325.4,219.7 326.5,223.1 327.5,226.4 328.5,229.6 329.6,232.8 330.6,235.8 331.7,238.8 332.7,241.7 333.7,244.5 334.8,247.2 335.8,249.9 336.8,252.5 337.9,255.0 338.9,257.4 339.9,259.8 341.0,262.0 342.0,264.3 343.1,266.4 344.1,268.5 345.1,270.5 346.2,272.5 347.2,274.4 348.2,276.2 349.3,277.9 350.3,279.6 351.4,281.3 352.4,282.8 353.4,284.4 354.5,285.8 355.5,287.2 356.5,288.6 357.6,289.9 358.6,291.1 359.7,292.3 360.7,293.5 361.7,294.6 362.8,295.6 363.8,296.6 364.8,297.6 365.9,298.5 366.9,299.3 367.9,300.1 369.0,300.9 370.0,301.6 371.1,302.3 372.1,303.0 373.1,303.6 374.2,304.2 375.2,304.7 376.2,305.3 377.3,305.7 378.3,306.2 379.4,306.6 380.4,307.0 381.4,307.4 382.5,307.7 383.5,308.0 384.5,308.3 385.6,308.5 386.6,308.8 387.7,309.0 388.7,309.2 389.7,309.4 390.8,309.5 391.8,309.6 392.8,309.8 393.9,309.9 394.9,310.0 395.9,310.1 397.0,310.1 398.0,310.2 399.1,310.2 400.1,310.3 401.1,310.3 402.2,310.4 403.2,310.4 404.2,310.4 405.3,310.4 406.3,310.4 407.4,310.4 408.4,310.5 409.4,310.5 410.5,310.5 411.5,310.5 412.5,310.6 413.6,310.6 414.6,310.7 415.6,310.7 416.7,310.8 417.7,310.9" stroke="#000080"/>
<polyline points="83.8,301.6 84.8,300.5 85.9,299.5 86.9,298.6 88.0,297.8 89.0,297.4 90.0,297.2 91.1,297.0 92.1,296.9 93.1,296.7 94.2,296.6 95.2,296.3 96.3,295.7 97.3,294.9 98.3,294.1 99.4,293.4 100.4,292.6 101.4,291.8 102.5,291.0 103.5,290.1 104.5,289.2 105.6,288.3 106.6,287.3 107.7,286.4 108.7,285.3 109.7,284.3 110.8,283.2 111.8,282.1 112.8,280.9 113.9,279.7 114.9,278.5 116.0,277.2 117.0,275.9 118.0,274.6 119.1,273.2 120.1,271.8 121.1,270.3 122.2,268.8 123.2,267.3 124.3,265.8 125.3,264.2 126.3,262.5 127.4,260.9 128.4,259.2 129.4,257.4 130.5,255.7 131.5,253.9 132.5,252.0 133.6,250.1 134.6,248.2 135.7,246.3 136.7,244.3 137.7,242.3 138.8,240.2 139.8,238.1 140.8,236.0 141.9,233.8 142.9,231.6 144.0,229.4 145.0,227.2 146.0,224.9 147.1,222.6 148.1,220.2 149.1,217.9 150.2,215.5 151.2,213.1 152.3,210.6 153.3,208.2 154.3,205.7 155.4,203.2 156.4,200.6 157.4,198.1 158.5,195.5 159.5,192.9 160.5,190.3 161.6,187.7 162.6,185.0 163.7,182.3 164.7,179.7 165.7,177.0 166.8,174.3 167.8,171.5 168.8,168.8 169.9,166.1 170.9,163.3 172.0,160.6 173.0,157.8 174.0,155.0 175.1,152.2 176.1,149.5 177.1,146.8 178.2,144.5 179.2,142.3 180.3,139.9 181.3,137.6 182.3,135.1 183.4,132.7 184.4,130.1 185.4,127.6 186.5,124.9 187.5,122.2 188.5,119.5 189.6,116.8 190.6,114.1 191.7,111.4 192.7,108.8 193.7,106.2 194.8,103.6 195.8,101.0 196.8,98.5 197.9,95.9 198.9,93.4 200.0,91.0 201.0,88.6 202.0,86.3 203.1,84.1 204.1,82.0 205.1,80.0 206.2,78.1 207.2,76.2 208.2,74.4 209.3,72.7 210.3,71.1 211.4,69.6 212.4,68.1 213.4,66.7 214.5,65.3 215.5,64.0 216.5,62.8 217.6,61.6 218.6,60.5 219.7,59.4 220.7,58.4 221.7,57.4 222.8,56.4 223.8,55.5 224.8,54.6 225.9,53.7 226.9,52.9 228.0,52.0 229.0,51.2 230.0,50.4 231.1,49.6 232.1,48.8 233.1,48.1 234.2,47.4 235.2,46.7 236.2,46.2 237.3,45.7 238.3,45.2 239.4,44.8 240.4,44.5 241.4,44.3 242.5,44.1 243.5,44.0 244.5,43.9 245.6,43.9 246.6,43.9 247.7,44.0 248.7,44.2 249.7,44.4 250.8,44.6 251.8,45.0 252.8,45.3 253.9,45.7 254.9,46.2 256.0,46.7 257.0,47.2 258.0,47.8 259.1,48.5 260.1,49.2 261.1,49.9 262.2,50.8 263.2,51.7 264.2,52.6 265.3,53.7 266.3,54.9 267.4,56.1 268.4,57.5 269.4,59.0 270.5,60.5 271.5,62.3 272.5,64.1 273.6,66.1 274.6,68.2 275.7,70.4 276.7,72.8 277.7,75.3 278.8,77.9 279.8,80.7 280.8,83.4 281.9,86.3 282.9,89.2 284.0,92.2 285.0,95.1 286.0,98.1 287.1,101.1 288.1,104.0 289.1,107.0 290.2,109.8 291.2,112.7 292.2,115.5 293.3,118.2 294.3,121.0 295.4,123.7 296.4,126.4 297.4,129.2 298.5,132.0 299.5,134.7 300.5,137.6 301.6,140.5 302.6,143.4 303.7,146.4 304.7,149.5 305.7,152.7 306.8,155.9 307.8,159.3 308.8,162.8 309.9,166.4 310.9,170.0 311.9,173.7 313.0,177.4 314.0,181.1 315.1,184.9 316.1,188.7 317.1,192.4 318.2,196.2 319.2,199.9 320.2,203.6 321.3,207.3 322.3,210.9 323.4,214.4 324.4,217.9 325.4,221.3 326.5,224.6 327.5,227.9 328.5,231.0 329.6,234.1 330.6,237.1 331.7,240.0 332.7,242.9 333.7,245.6 334.8,248.3 335.8,250.9 336.8,253.5 337.9,255.9 338.9,258.3 339.9,260.7 341.0,262.9 342.0,265.1 343.1,267.2 344.1,269.2 345.1,271.2 346.2,273.1 347.2,275.0 348.2,276.8 349.3,278.5 350.3,280.2 351.4,281.8 352.4,283.4 353.4,284.9 354.5,286.3 355.5,287.7 356.5,289.0 357.6,290.3 358.6,291.5 359.7,292.7 360.7,293.8 361.7,294.9 362.8,295.9 363.8,296.9 364.8,297.8 365.9,298.7 366.9,299.5 367.9,300.3 369.0,301.1 370.0,301.8 371.1,302.5 372.1,303.2 373.1,303.8 374.2,304.3 375.2,304.9 376.2,305.4 377.3,305.8 378.3,306.3 379.4,306.7 380.4,307.1 381.4,307.4 382.5,307.7 383.5,308.0 384.5,308.3 385.6,308.6 386.6,308.8 387.7,309.0 388.7,309.2 389.7,309.4 390.8,309.5 391.8,309.7 392.8,309.8 393.9,309.9 394.9,310.0 395.9,310.1 397.0,310.1 398.0,310.2 399.1,310.2 400.1,310.3 401.1,310.3 402.2,310.3 403.2,310.4 404.2,310.4 405.3,310.4 406.3,310.4 407.4,310.4 408.4,310.4 409.4,310.5 410.5,310.5 411.5,310.5 412.5,310.5 413.6,310.6 414.6,310.6 415.6,310.7 416.7,310.8 417.7,310.9" stroke="#800080"/>
<polyline points="83.8,301.6 84.8,300.5 85.9,299.5 86.9,298.6 88.0,297.8 89.0,297.4 90.0,297.2 91.1,297.0 92.1,296.9 93.1,296.7 94.2,296.6 95.2,296.3 96.3,295.7 97.3,294.9 98.3,294.1 99.4,293.4 100.4,292.6 101.4,291.8 102.5,291.0 103.5,290.1 104.5,289.2 105.6,288.3 106.6,287.3 107.7,286.4 108.7,285.3 109.7,284.3 110.8,283.2 111.8,282.1 112.8,280.9 113.9,279.7 114.9,278.5 116.0,277.2 117.0,275.9 118.0,274.6 119.1,273.2 120.1,271.8 121.1,270.3 122.2,268.8 123.2,267.3 124.3,265.8 125.3,264.2 126.3,262.5 127.4,260.9 128.4,259.2 129.4,257.4 130.5,255.7 131.5,253.9 132.5,252.0 133.6,250.1 134.6,248.2 135.7,246.3 136.7,244.3 137.7,242.3 138.8,240.2 139.8,238.1 140.8,236.0 141.9,233.8 142.9,231.6 144.0,229.4 145.0,227.2 146.0,224.9 147.1,222.6 148.1,220.2 149.1,217.9 150.2,215.5 151.2,213.1 152.3,210.6 153.3,208.2 154.3,205.7 155.4,203.2 156.4,200.6 157.4,198.1 158.5,195.5 159.5,192.9 160.5,190.3 161.6,187.7 162.6,185.0 163.7,182.3 164.7,179.7 165.7,177.0 166.8,174.3 167.8,171.5 168.8,168.8 169.9,166.1 170.9,163.3 172.0,160.6 173.0,157.8 174.0,155.3 175.1,153.2 176.1,151.0 177.1,148.8 178.2,146.6 179.2,144.3 180.3,142.1 181.3,139.7 182.3,137.3 183.4,134.9 184.4,132.4 185.4,129.9 186.5,127.2 187.5,124.6 188.5,121.9 189.6,119.3 190.6,116.6 191.7,114.0 192.7,111.4 193.7,108.9 194.8,106.3 195.8,103.8 196.8,101.3 197.9,98.8 198.9,96.4 200.0,93.9 201.0,91.6 202.0,89.4 203.1,87.2 204.1,85.2 205.1,83.2 206.2,81.3 207.2,79.5 208.2,77.7 209.3,76.1 210.3,74.5 211.4,72.9 212.4,71.5 213.4,70.1 214.5,68.8 215.5,67.5 216.5,66.3 217.6,65.1 218.6,64.0 219.7,63.0 220.7,61.9 221.7,61.0 222.8,60.0 223.8,59.1 224.8,58.2 225.9,57.4 226.9,56.6 228.0,55.8 229.0,55.0 230.0,54.2 231.1,53.4 232.1,52.7 233.1,51.9 234.2,51.2 235.2,50.6 236.2,50.1 237.3,49.6 238.3,49.2 239.4,48.8 240.4,48.5 241.4,48.3 242.5,48.1 243.5,48.0 244.5,48.0 245.6,48.0 246.6,48.0 247.7,48.1 248.7,48.3 249.7,48.5 250.8,48.8 251.8,49.1 252.8,49.5 253.9,49.9 254.9,50.3 256.0,50.9 257.0,51.4 258.0,52.0 259.1,52.7 260.1,53.4 261.1,54.1 262.2,55.0 263.2,55.9 264.2,56.9 265.3,57.9 266.3,59.1 267.4,60.4 268.4,61.7 269.4,63.2 270.5,64.8 271.5,66.4 272.5,68.3 273.6,70.2 274.6,72.3 275.7,74.5 276.7,76.9 277.7,79.4 278.8,82.0 279.8,84.6 280.8,87.4 281.9,90.2 282.9,93.1 284.0,96.0 285.0,98.9 286.0,101.9 287.1,104.8 288.1,107.7 289.1,110.6 290.2,113.4 291.2,116.2 292.2,119.0 293.3,121.7 294.3,124.5 295.4,127.2 296.4,129.9 297.4,132.6 298.5,135.3 299.5,138.1 300.5,140.9 301.6,143.7 302.6,146.6 303.7,149.6 304.7,152.6 305.7,155.8 306.8,159.0 307.8,162.3 308.8,165.7 309.9,169.2 310.9,172.8 311.9,176.4 313.0,180.0 314.0,183.7 315.1,187.4 316.1,191.1 317.1,194.8 318.2,198.5 319.2,202.1 320.2,205.7 321.3,209.3 322.3,212.9 323.4,216.3 324.4,219.8 325.4,223.1 326.5,226.4 327.5,229.5 328.5,232.6 329.6,235.6 330.6,238.6 331.7,241.4 332.7,244.2 333.7,246.9 334.8,249.6 335.8,252.1 336.8,254.6 337.9,257.0 338.9,259.4 339.9,261.7 341.0,263.9 342.0,266.0 343.1,268.1 344.1,270.1 345.1,272.0 346.2,273.9 347.2,275.7 348.2,277.5 349.3,279.2 350.3,280.8 351.4,282.4 352.4,283.9 353.4,285.4 354.5,286.8 355.5,288.2 356.5,289.5 357.6,290.7 358.6,291.9 359.7,293.1 360.7,294.2 361.7,295.2 362.8,296.2 363.8,297.2 364.8,298.1 365.9,299.0 366.9,299.8 367.9,300.6 369.0,301.3 370.0,302.0 371.1,302.7 372.1,303.3 373.1,303.9 374.2,304.5 375.2,305.0 376.2,305.5 377.3,305.9 378.3,306.4 379.4,306.8 380.4,307.1 381.4,307.5 382.5,307.8 383.5,308.1 384.5,308.4 385.6,308.6 386.6,308.8 387.7,309.0 388.7,309.2 389.7,309.4 390.8,309.5 391.8,309.7 392.8,309.8 393.9,309.9 394.9,310.0 395.9,310.0 397.0,310.1 398.0,310.2 399.1,310.2 400.1,310.3 401.1,310.3 402.2,310.3 403.2,310.3 404.2,310.4 405.3,310.4 406.3,310.4 407.4,310.4 408.4,310.4 409.4,310.4 410.5,310.5 411.5,310.5 412.5,310.5 413.6,310.6 414.6,310.6 415.6,310.7 416.7,310.8 417.7,310.8" stroke="#800000"/>
<polyline points="83.8,301.6 84.8,300.5 85.9,299.5 86.9,298.6 88.0,297.8 89.0,297.4 90.0,297.2 91.1,297.0 92.1,296.9 93.1,296.7 94.2,296.6 95.2,296.3 96.3,295.7 97.3,294.9 98.3,294.1 99.4,293.4 100.4,292.6 101.4,291.8 102.5,291.0 103.5,290.1 104.5,289.2 105.6,288.3 106.6,287.3 107.7,286.4 108.7,285.3 109.7,284.3 110.8,283.2 111.8,282.1 112.8,280.9 113.9,279.7 114.9,278.5 116.0,277.2 117.0,275.9 118.0,274.6 119.1,273.2 120.1,271.8 121.1,270.3 122.2,268.8 123.2,267.3 124.3,265.8 125.3,264.2 126.3,262.5 127.4,260.9 128.4,259.2 129.4,257.4 130.5,255.7 131.5,253.9 132.5,252.0 133.6,250.1 134.6,248.2 135.7,246.3 136.7,244.3 137.7,242.3 138.8,240.2 139.8,238.1 140.8,236.0 141.9,233.8 142.9,231.6 144.0,229.4 145.0,227.2 146.0,224.9 147.1,222.6 148.1,220.2 149.1,217.9 150.2,215.5 151.2,213.1 152.3,210.6 153.3,208.2 154.3,205.7 155.4,203.2 156.4,200.6 157.4,198.1 158.5,195.5 159.5,192.9 160.5,190.3 161.6,187.7 162.6,185.0 163.7,182.3 164.7,179.7 165.7,177.0 166.8,174.3 167.8,171.5 168.8,168.8 169.9,166.7 170.9,164.6 172.0,162.6 173.0,160.5 174.0,158.4 175.1,156.3 176.1,154.2 177.1,152.1 178.2,149.9 179.2,147.7 180.3,145.4 181.3,143.2 182.3,140.8 183.4,138.5 184.4,136.0 185.4,133.6 186.5,131.0 187.5,128.4 188.5,125.8 189.6,123.3 190.6,120.7 191.7,118.2 192.7,115.7 193.7,113.2 194.8,110.7 195.8,108.3 196.8,105.8 197.9,103.4 198.9,101.0 200.0,98.7 201.0,96.5 202.0,94.3 203.1,92.2 204.1,90.2 205.1,88.3 206.2,86.4 207.2,84.7 208.2,83.0 209.3,81.4 210.3,79.8 211.4,78.3 212.4,76.9 213.4,75.6 214.5,74.3 215.5,73.1 216.5,71.9 217.6,70.8 218.6,69.7 219.7,68.7 220.7,67.7 221.7,66.8 222.8,65.8 223.8,65.0 224.8,64.1 225.9,63.3 226.9,62.5 228.0,61.7 229.0,61.0 230.0,60.2 231.1,59.5 232.1,58.8 233.1,58.1 234.2,57.4 235.2,56.9 236.2,56.3 237.3,55.9 238.3,55.5 239.4,55.2 240.4,54.9 241.4,54.7 242.5,54.6 243.5,54.5 244.5,54.4 245.6,54.5 246.6,54.5 247.7,54.7 248.7,54.9 249.7,55.1 250.8,55.4 251.8,55.7 252.8,56.1 253.9,56.5 254.9,57.0 256.0,57.5 257.0,58.1 258.0,58.7 259.1,59.4 260.1,60.1 261.1,60.9 262.2,61.7 263.2,62.6 264.2,63.6 265.3,64.7 266.3,65.9 267.4,67.1 268.4,68.5 269.4,69.9 270.5,71.5 271.5,73.2 272.5,75.0 273.6,76.9 274.6,78.9 275.7,81.1 276.7,83.4 277.7,85.9 278.8,88.4 279.8,91.0 280.8,93.7 281.9,96.5 282.9,99.3 284.0,102.1 285.0,105.0 286.0,107.9 287.1,110.7 288.1,113.6 289.1,116.4 290.2,119.2 291.2,122.0 292.2,124.7 293.3,127.3 294.3,130.0 295.4,132.7 296.4,135.3 297.4,138.0 298.5,140.7 299.5,143.4 300.5,146.1 301.6,148.9 302.6,151.7 303.7,154.6 304.7,157.6 305.7,160.7 306.8,163.8 307.8,167.1 308.8,170.4 309.9,173.8 310.9,177.2 311.9,180.7 313.0,184.3 314.0,187.9 315.1,191.4 316.1,195.0 317.1,198.6 318.2,202.1 319.2,205.7 320.2,209.2 321.3,212.6 322.3,216.0 323.4,219.4 324.4,222.7 325.4,225.9 326.5,229.1 327.5,232.2 328.5,235.2 329.6,238.1 330.6,240.9 331.7,243.7 332.7,246.4 333.7,249.0 334.8,251.5 335.8,254.0 336.8,256.4 337.9,258.8 338.9,261.0 339.9,263.2 341.0,265.4 342.0,267.5 343.1,269.5 344.1,271.4 345.1,273.3 346.2,275.1 347.2,276.9 348.2,278.6 349.3,280.2 350.3,281.8 351.4,283.3 352.4,284.8 353.4,286.2 354.5,287.6 355.5,288.9 356.5,290.2 357.6,291.4 358.6,292.6 359.7,293.7 360.7,294.7 361.7,295.8 362.8,296.7 363.8,297.7 364.8,298.5 365.9,299.4 366.9,300.2 367.9,301.0 369.0,301.7 370.0,302.4 371.1,303.0 372.1,303.6 373.1,304.2 374.2,304.7 375.2,305.2 376.2,305.7 377.3,306.1 378.3,306.5 379.4,306.9 380.4,307.3 381.4,307.6 382.5,307.9 383.5,308.2 384.5,308.4 385.6,308.7 386.6,308.9 387.7,309.1 388.7,309.2 389.7,309.4 390.8,309.5 391.8,309.7 392.8,309.8 393.9,309.9 394.9,310.0 395.9,310.0 397.0,310.1 398.0,310.1 399.1,310.2 400.1,310.2 401.1,310.3 402.2,310.3 403.2,310.3 404.2,310.3 405.3,310.3 406.3,310.4 407.4,310.4 408.4,310.4 409.4,310.4 410.5,310.4 411.5,310.5 412.5,310.5 413.6,310.6 414.6,310.6 415.6,310.7 416.7,310.8 417.7,310.8" stroke="#008000"/>
<polyline points="83.8,301.6 84.8,300.5 85.9,299.5 86.9,298.6 88.0,297.8 89.0,297.4 90.0,297.2 91.1,297.0 92.1,296.9 93.1,296.7 94.2,296.6 95.2,296.3 96.3,295.7 97.3,294.9 98.3,294.1 99.4,293.4 100.4,292.6 101.4,291.8 102.5,291.0 103.5,290.1 104.5,289.2 105.6,288.3 106.6,287.3 107.7,286.4 108.7,285.3 109.7,284.3 110.8,283.2 111.8,282.1 112.8,280.9 113.9,279.7 114.9,278.5 116.0,277.2 117.0,275.9 118.0,274.6 119.1,273.2 120.1,271.8 121.1,270.3 122.2,268.8 123.2,267.3 124.3,265.8 125.3,264.2 126.3,262.5 127.4,260.9 128.4,259.2 129.4,257.4 130.5,255.7 131.5,253.9 132.5,252.0 133.6,250.1 134.6,248.2 135.7,246.3 136.7,244.3 137.7,242.3 138.8,240.2 139.8,238.1 140.8,236.0 141.9,233.8 142.9,231.6 144.0,229.4 145.0,227.2 146.0,224.9 147.1,222.6 148.1,220.2 149.1,217.9 150.2,215.5 151.2,213.1 152.3,210.6 153.3,208.2 154.3,205.7 155.4,203.2 156.4,200.6 157.4,198.1 158.5,195.5 159.5,192.9 160.5,190.3 161.6,187.7 162.6,185.0 163.7,182.3 164.7,179.7 165.7,177.0 166.8,174.9 167.8,173.0 168.8,171.0 169.9,169.0 170.9,167.0 172.0,165.0 173.0,162.9 174.0,160.9 175.1,158.8 176.1,156.7 177.1,154.6 178.2,152.5 179.2,150.3 180.3,148.1 181.3,145.9 182.3,143.6 183.4,141.2 184.4,138.9 185.4,136.4 186.5,134.0 187.5,131.4 188.5,128.9 189.6,126.4 190.6,123.9 191.7,121.4 192.7,119.0 193.7,116.5 194.8,114.1 195.8,111.7 196.8,109.4 197.9,107.0 198.9,104.7 200.0,102.4 201.0,100.3 202.0,98.1 203.1,96.1 204.1,94.2 205.1,92.3 206.2,90.5 207.2,88.8 208.2,87.1 209.3,85.5 210.3,84.0 211.4,82.6 212.4,81.2 213.4,79.9 214.5,78.6 215.5,77.4 216.5,76.3 217.6,75.2 218.6,74.1 219.7,73.1 220.7,72.2 221.7,71.3 222.8,70.4 223.8,69.5 224.8,68.7 225.9,67.9 226.9,67.2 228.0,66.4 229.0,65.7 230.0,65.0 231.1,64.3 232.1,63.6 233.1,62.9 234.2,62.3 235.2,61.7 236.2,61.2 237.3,60.8 238.3,60.5 239.4,60.2 240.4,59.9 241.4,59.7 242.5,59.6 243.5,59.5 244.5,59.5 245.6,59.6 246.6,59.7 247.7,59.8 248.7,60.0 249.7,60.2 250.8,60.5 251.8,60.9 252.8,61.3 253.9,61.7 254.9,62.2 256.0,62.8 257.0,63.3 258.0,64.0 259.1,64.6 260.1,65.4 261.1,66.1 262.2,67.0 263.2,67.9 264.2,68.9 265.3,70.0 266.3,71.1 267.4,72.4 268.4,73.7 269.4,75.2 270.5,76.7 271.5,78.4 272.5,80.2 273.6,82.1 274.6,84.1 275.7,86.3 276.7,88.6 277.7,90.9 278.8,93.4 279.8,96.0 280.8,98.7 281.9,101.4 282.9,104.1 284.0,106.9 285.0,109.7 286.0,112.5 287.1,115.4 288.1,118.2 289.1,121.0 290.2,123.7 291.2,126.4 292.2,129.1 293.3,131.7 294.3,134.4 295.4,137.0 296.4,139.6 297.4,142.2 298.5,144.9 299.5,147.5 300.5,150.2 301.6,153.0 302.6,155.8 303.7,158.6 304.7,161.5 305.7,164.5 306.8,167.6 307.8,170.8 308.8,174.0 309.9,177.4 310.9,180.7 311.9,184.1 313.0,187.6 314.0,191.1 315.1,194.6 316.1,198.0 317.1,201.5 318.2,205.0 319.2,208.4 320.2,211.8 321.3,215.2 322.3,218.5 323.4,221.8 324.4,225.0 325.4,228.2 326.5,231.2 327.5,234.2 328.5,237.1 329.6,240.0 330.6,242.7 331.7,245.4 332.7,248.1 333.7,250.6 334.8,253.1 335.8,255.5 336.8,257.9 337.9,260.1 338.9,262.3 339.9,264.5 341.0,266.6 342.0,268.6 343.1,270.6 344.1,272.5 345.1,274.3 346.2,276.1 347.2,277.8 348.2,279.4 349.3,281.0 350.3,282.6 351.4,284.1 352.4,285.5 353.4,286.9 354.5,288.2 355.5,289.5 356.5,290.8 357.6,291.9 358.6,293.1 359.7,294.2 360.7,295.2 361.7,296.2 362.8,297.1 363.8,298.0 364.8,298.9 365.9,299.7 366.9,300.5 367.9,301.2 369.0,301.9 370.0,302.6 371.1,303.2 372.1,303.8 373.1,304.4 374.2,304.9 375.2,305.4 376.2,305.8 377.3,306.3 378.3,306.7 379.4,307.0 380.4,307.4 381.4,307.7 382.5,308.0 383.5,308.2 384.5,308.5 385.6,308.7 386.6,308.9 387.7,309.1 388.7,309.3 389.7,309.4 390.8,309.6 391.8,309.7 392.8,309.8 393.9,309.9 394.9,309.9 395.9,310.0 397.0,310.1 398.0,310.1 399.1,310.2 400.1,310.2 401.1,310.2 402.2,310.3 403.2,310.3 404.2,310.3 405.3,310.3 406.3,310.3 407.4,310.3 408.4,310.4 409.4,310.4 410.5,310.4 411.5,310.4 412.5,310.5 413.6,310.5 414.6,310.6 415.6,310.7 416.7,310.7 417.7,310.8" stroke="#008080"/>
<polyline points="83.8,301.6 84.8,300.5 85.9,299.5 86.9,298.6 88.0,297.8 89.0,297.4 90.0,297.2 91.1,297.0 92.1,296.9 93.1,296.7 94.2,296.6 95.2,296.3 96.3,295.7 97.3,294.9 98.3,294.1 99.4,293.4 100.4,292.6 101.4,291.8 102.5,291.0 103.5,290.1 104.5,289.2 105.6,288.3 106.6,287.3 107.7,286.4 108.7,285.3 109.7,284.3 110.8,283.2 111.8,282.1 112.8,280.9 113.9,279.7 114.9,278.5 116.0,277.2 117.0,275.9 118.0,274.6 119.1,273.2 120.1,271.8 121.1,270.3 122.2,268.8 123.2,267.3 124.3,265.8 125.3,264.2 126.3,262.5 127.4,260.9 128.4,259.2 129.4,257.4 130.5,255.7 131.5,253.9 132.5,252.0 133.6,250.1 134.6,248.2 135.7,246.3 136.7,244.3 137.7,242.3 138.8,240.2 139.8,238.1 140.8,236.0 141.9,233.8 142.9,231.6 144.0,229.4 145.0,227.2 146.0,224.9 147.1,222.6 148.1,220.2 149.1,217.9 150.2,215.5 151.2,213.1 152.3,210.6 153.3,208.2 154.3,205.7 155.4,203.2 156.4,200.6 157.4,198.1 158.5,195.5 159.5,192.9 160.5,190.3 161.6,187.7 162.6,185.1 163.7,183.2 164.7,181.3 165.7,179.3 166.8,177.4 167.8,175.4 168.8,173.5 169.9,171.5 170.9,169.5 172.0,167.5 173.0,165.5 174.0,163.5 175.1,161.5 176.1,159.4 177.1,157.3 178.2,155.2 179.2,153.1 180.3,151.0 181.3,148.8 182.3,146.5 183.4,144.3 184.4,141.9 185.4,139.6 186.5,137.1 187.5,134.7 188.5,132.2 189.6,129.8 190.6,127.3 191.7,124.9 192.7,122.6 193.7,120.2 194.8,117.8 195.8,115.5 196.8,113.2 197.9,110.9 198.9,108.7 200.0,106.5 201.0,104.3 202.0,102.3 203.1,100.3 204.1,98.4 205.1,96.6 206.2,94.8 207.2,93.2 208.2,91.5 209.3,90.0 210.3,88.5 211.4,87.1 212.4,85.8 213.4,84.5 214.5,83.3 215.5,82.1 216.5,81.0 217.6,80.0 218.6,78.9 219.7,78.0 220.7,77.0 221.7,76.1 222.8,75.3 223.8,74.5 224.8,73.7 225.9,72.9 226.9,72.2 228.0,71.5 229.0,70.8 230.0,70.1 231.1,69.4 232.1,68.7 233.1,68.1 234.2,67.5 235.2,67.0 236.2,66.5 237.3,66.1 238.3,65.8 239.4,65.5 240.4,65.3 241.4,65.2 242.5,65.0 243.5,65.0 244.5,65.0 245.6,65.1 246.6,65.2 247.7,65.3 248.7,65.5 249.7,65.8 250.8,66.1 251.8,66.5 252.8,66.9 253.9,67.3 254.9,67.8 256.0,68.4 257.0,69.0 258.0,69.6 259.1,70.3 260.1,71.0 261.1,71.8 262.2,72.7 263.2,73.6 264.2,74.6 265.3,75.7 266.3,76.8 267.4,78.1 268.4,79.4 269.4,80.9 270.5,82.4 271.5,84.1 272.5,85.8 273.6,87.7 274.6,89.7 275.7,91.8 276.7,94.1 277.7,96.4 278.8,98.9 279.8,101.4 280.8,104.0 281.9,106.6 282.9,109.3 284.0,112.1 285.0,114.8 286.0,117.6 287.1,120.4 288.1,123.1 289.1,125.9 290.2,128.6 291.2,131.2 292.2,133.9 293.3,136.5 294.3,139.0 295.4,141.6 296.4,144.2 297.4,146.8 298.5,149.4 299.5,152.0 300.5,154.7 301.6,157.4 302.6,160.1 303.7,162.9 304.7,165.8 305.7,168.7 306.8,171.7 307.8,174.8 308.8,178.0 309.9,181.2 310.9,184.5 311.9,187.8 313.0,191.2 314.0,194.6 315.1,197.9 316.1,201.3 317.1,204.7 318.2,208.1 319.2,211.4 320.2,214.7 321.3,218.0 322.3,221.2 323.4,224.4 324.4,227.5 325.4,230.6 326.5,233.5 327.5,236.4 328.5,239.3 329.6,242.0 330.6,244.7 331.7,247.3 332.7,249.9 333.7,252.4 334.8,254.8 335.8,257.1 336.8,259.4 337.9,261.6 338.9,263.8 339.9,265.8 341.0,267.9 342.0,269.8 343.1,271.7 344.1,273.6 345.1,275.4 346.2,277.1 347.2,278.8 348.2,280.4 349.3,281.9 350.3,283.4 351.4,284.9 352.4,286.3 353.4,287.6 354.5,288.9 355.5,290.2 356.5,291.4 357.6,292.5 358.6,293.6 359.7,294.7 360.7,295.7 361.7,296.7 362.8,297.6 363.8,298.5 364.8,299.3 365.9,300.1 366.9,300.8 367.9,301.6 369.0,302.2 370.0,302.9 371.1,303.5 372.1,304.0 373.1,304.6 374.2,305.1 375.2,305.6 376.2,306.0 377.3,306.4 378.3,306.8 379.4,307.2 380.4,307.5 381.4,307.8 382.5,308.1 383.5,308.3 384.5,308.6 385.6,308.8 386.6,309.0 387.7,309.1 388.7,309.3 389.7,309.4 390.8,309.6 391.8,309.7 392.8,309.8 393.9,309.9 394.9,309.9 395.9,310.0 397.0,310.1 398.0,310.1 399.1,310.2 400.1,310.2 401.1,310.2 402.2,310.2 403.2,310.3 404.2,310.3 405.3,310.3 406.3,310.3 407.4,310.3 408.4,310.3 409.4,310.4 410.5,310.4 411.5,310.4 412.5,310.5 413.6,310.5 414.6,310.6 415.6,310.7 416.7,310.7 417.7,310.8" stroke="#0000A0"/>
<polyline points="83.8,301.6 84.8,300.5 85.9,299.5 86.9,298.6 88.0,297.8 89.0,297.4 90.0,297.2 91.1,297.0 92.1,296.9 93.1,296.7 94.2,296.6 95.2,296.3 96.3,295.7 97.3,294.9 98.3,294.1 99.4,293.4 100.4,292.6 101.4,291.8 102.5,291.0 103.5,290.1 104.5,289.2 105.6,288.3 106.6,287.3 107.7,286.4 108.7,285.3 109.7,284.3 110.8,283.2 111.8,282.1 112.8,280.9 113.9,279.7 114.9,278.5 116.0,277.2 117.0,275.9 118.0,274.6 119.1,273.2 120.1,271.8 121.1,270.3 122.2,268.8 123.2,267.3 124.3,265.8 125.3,264.2 126.3,262.5 127.4,260.9 128.4,259.2 129.4,257.4 130.5,255.7 131.5,253.9 132.5,252.0 133.6,250.1 134.6,248.2 135.7,246.3 136.7,244.3 137.7,242.3 138.8,240.2 139.8,238.1 140.8,236.0 141.9,233.8 142.9,231.6 144.0,229.4 145.0,227.2 146.0,224.9 147.1,222.6 148.1,220.2 149.1,217.9 150.2,215.5 151.2,213.1 152.3,210.6 153.3,208.2 154.3,205.7 155.4,203.2 156.4,200.6 157.4,198.1 158.5,195.5 159.5,193.2 160.5,191.2 161.6,189.3 162.6,187.4 163.7,185.5 164.7,183.5 165.7,181.6 166.8,179.7 167.8,177.8 168.8,175.8 169.9,173.9 170.9,172.0 172.0,170.0 173.0,168.0 174.0,166.0 175.1,164.0 176.1,162.0 177.1,160.0 178.2,157.9 179.2,155.8 180.3,153.7 181.3,151.6 182.3,149.4 183.4,147.1 184.4,144.9 185.4,142.6 186.5,140.2 187.5,137.8 188.5,135.4 189.6,133.0 190.6,130.7 191.7,128.3 192.7,126.0 193.7,123.7 194.8,121.4 195.8,119.1 196.8,116.9 197.9,114.7 198.9,112.5 200.0,110.3 201.0,108.3 202.0,106.3 203.1,104.4 204.1,102.5 205.1,100.7 206.2,99.0 207.2,97.4 208.2,95.8 209.3,94.3 210.3,92.9 211.4,91.5 212.4,90.2 213.4,89.0 214.5,87.8 215.5,86.7 216.5,85.6 217.6,84.5 218.6,83.6 219.7,82.6 220.7,81.7 221.7,80.8 222.8,80.0 223.8,79.2 224.8,78.5 225.9,77.7 226.9,77.0 228.0,76.3 229.0,75.6 230.0,75.0 231.1,74.3 232.1,73.7 233.1,73.1 234.2,72.6 235.2,72.1 236.2,71.6 237.3,71.3 238.3,71.0 239.4,70.7 240.4,70.5 241.4,70.4 242.5,70.3 243.5,70.3 244.5,70.3 245.6,70.3 246.6,70.5 247.7,70.7 248.7,70.9 249.7,71.2 250.8,71.5 251.8,71.9 252.8,72.3 253.9,72.7 254.9,73.3 256.0,73.8 257.0,74.4 258.0,75.1 259.1,75.8 260.1,76.5 261.1,77.3 262.2,78.2 263.2,79.1 264.2,80.1 265.3,81.2 266.3,82.3 267.4,83.6 268.4,84.9 269.4,86.3 270.5,87.9 271.5,89.5 272.5,91.3 273.6,93.1 274.6,95.1 275.7,97.2 276.7,99.4 277.7,101.7 278.8,104.1 279.8,106.6 280.8,109.1 281.9,111.7 282.9,114.4 284.0,117.1 285.0,119.8 286.0,122.5 287.1,125.2 288.1,127.9 289.1,130.6 290.2,133.3 291.2,135.9 292.2,138.4 293.3,141.0 294.3,143.6 295.4,146.1 296.4,148.6 297.4,151.2 298.5,153.7 299.5,156.3 300.5,158.9 301.6,161.6 302.6,164.3 303.7,167.0 304.7,169.8 305.7,172.7 306.8,175.6 307.8,178.7 308.8,181.8 309.9,184.9 310.9,188.1 311.9,191.4 313.0,194.6 314.0,197.9 315.1,201.2 316.1,204.5 317.1,207.8 318.2,211.0 319.2,214.3 320.2,217.5 321.3,220.7 322.3,223.8 323.4,226.9 324.4,229.9 325.4,232.9 326.5,235.8 327.5,238.6 328.5,241.3 329.6,244.0 330.6,246.6 331.7,249.2 332.7,251.6 333.7,254.0 334.8,256.4 335.8,258.7 336.8,260.9 337.9,263.0 338.9,265.1 339.9,267.1 341.0,269.1 342.0,271.0 343.1,272.9 344.1,274.7 345.1,276.4 346.2,278.1 347.2,279.7 348.2,281.3 349.3,282.8 350.3,284.2 351.4,285.7 352.4,287.0 353.4,288.3 354.5,289.6 355.5,290.8 356.5,292.0 357.6,293.1 358.6,294.2 359.7,295.2 360.7,296.2 361.7,297.1 362.8,298.0 363.8,298.8 364.8,299.7 365.9,300.4 366.9,301.2 367.9,301.9 369.0,302.5 370.0,303.1 371.1,303.7 372.1,304.3 373.1,304.8 374.2,305.3 375.2,305.7 376.2,306.2 377.3,306.6 378.3,306.9 379.4,307.3 380.4,307.6 381.4,307.9 382.5,308.1 383.5,308.4 384.5,308.6 385.6,308.8 386.6,309.0 387.7,309.2 388.7,309.3 389.7,309.5 390.8,309.6 391.8,309.7 392.8,309.8 393.9,309.9 394.9,309.9 395.9,310.0 397.0,310.1 398.0,310.1 399.1,310.1 400.1,310.2 401.1,310.2 402.2,310.2 403.2,310.2 404.2,310.3 405.3,310.3 406.3,310.3 407.4,310.3 408.4,310.3 409.4,310.3 410.5,310.4 411.5,310.4 412.5,310.4 413.6,310.5 414.6,310.6 415.6,310.6 416.7,310.7 417.7,310.8" stroke="#FF8000"/>
<polyline points="83.8,301.6 84.8,300.5 85.9,299.5 86.9,298.6 88.0,297.8 89.0,297.4 90.0,297.2 91.1,297.0 92.1,296.9 93.1,296.7 94.2,296.6 95.2,296.3 96.3,295.7 97.3,294.9 98.3,294.1 99.4,293.4 100.4,292.6 101.4,291.8 102.5,291.0 103.5,290.1 104.5,289.2 105.6,288.3 106.6,287.3 107.7,286.4 108.7,285.3 109.7,284.3 110.8,283.2 111.8,282.1 112.8,280.9 113.9,279.7 114.9,278.5 116.0,277.2 117.0,275.9 118.0,274.6 119.1,273.2 120.1,271.8 121.1,270.3 122.2,268.8 123.2,267.3 124.3,265.8 125.3,264.2 126.3,262.5 127.4,260.9 128.4,259.2 129.4,257.4 130.5,255.7 131.5,253.9 132.5,252.0 133.6,250.1 134.6,248.2 135.7,246.3 136.7,244.3 137.7,242.3 138.8,240.2 139.8,238.1 140.8,236.0 141.9,233.8 142.9,231.6 144.0,229.4 145.0,227.2 146.0,224.9 147.1,222.6 148.1,220.2 149.1,217.9 150.2,215.5 151.2,213.1 152.3,210.6 153.3,208.2 154.3,206.1 155.4,204.2 156.4,202.2 157.4,200.3 158.5,198.4 159.5,196.5 160.5,194.6 161.6,192.7 162.6,190.8 163.7,188.9 164.7,187.1 165.7,185.2 166.8,183.3 167.8,181.4 168.8,179.5 169.9,177.6 170.9,175.7 172.0,173.8 173.0,171.9 174.0,169.9 175.1,168.0 176.1,166.0 177.1,164.0 178.2,162.0 179.2,160.0 180.3,157.9 181.3,155.9 182.3,153.7 183.4,151.6 184.4,149.4 185.4,147.2 186.5,144.9 187.5,142.6 188.5,140.3 189.6,138.0 190.6,135.8 191.7,133.5 192.7,131.3 193.7,129.1 194.8,126.9 195.8,124.7 196.8,122.6 197.9,120.5 198.9,118.4 200.0,116.3 201.0,114.3 202.0,112.4 203.1,110.6 204.1,108.8 205.1,107.1 206.2,105.5 207.2,103.9 208.2,102.4 209.3,101.0 210.3,99.6 211.4,98.3 212.4,97.0 213.4,95.9 214.5,94.7 215.5,93.6 216.5,92.6 217.6,91.6 218.6,90.7 219.7,89.8 220.7,88.9 221.7,88.1 222.8,87.3 223.8,86.5 224.8,85.8 225.9,85.1 226.9,84.4 228.0,83.8 229.0,83.2 230.0,82.5 231.1,82.0 232.1,81.4 233.1,80.8 234.2,80.3 235.2,79.9 236.2,79.5 237.3,79.2 238.3,78.9 239.4,78.7 240.4,78.5 241.4,78.4 242.5,78.3 243.5,78.3 244.5,78.4 245.6,78.5 246.6,78.6 247.7,78.8 248.7,79.1 249.7,79.4 250.8,79.7 251.8,80.1 252.8,80.6 253.9,81.1 254.9,81.6 256.0,82.2 257.0,82.8 258.0,83.5 259.1,84.2 260.1,84.9 261.1,85.7 262.2,86.6 263.2,87.5 264.2,88.6 265.3,89.6 266.3,90.8 267.4,92.0 268.4,93.4 269.4,94.8 270.5,96.3 271.5,97.9 272.5,99.6 273.6,101.4 274.6,103.4 275.7,105.4 276.7,107.6 277.7,109.8 278.8,112.1 279.8,114.5 280.8,117.0 281.9,119.6 282.9,122.1 284.0,124.7 285.0,127.4 286.0,130.0 287.1,132.6 288.1,135.3 289.1,137.9 290.2,140.5 291.2,143.0 292.2,145.5 293.3,148.0 294.3,150.5 295.4,153.0 296.4,155.5 297.4,157.9 298.5,160.4 299.5,163.0 300.5,165.5 301.6,168.1 302.6,170.7 303.7,173.4 304.7,176.1 305.7,178.8 306.8,181.7 307.8,184.6 308.8,187.6 309.9,190.6 310.9,193.7 311.9,196.8 313.0,199.9 314.0,203.1 315.1,206.2 316.1,209.4 317.1,212.5 318.2,215.6 319.2,218.7 320.2,221.8 321.3,224.8 322.3,227.8 323.4,230.7 324.4,233.6 325.4,236.4 326.5,239.2 327.5,241.9 328.5,244.5 329.6,247.0 330.6,249.5 331.7,252.0 332.7,254.3 333.7,256.6 334.8,258.9 335.8,261.0 336.8,263.1 337.9,265.2 338.9,267.2 339.9,269.1 341.0,271.0 342.0,272.8 343.1,274.6 344.1,276.3 345.1,278.0 346.2,279.6 347.2,281.1 348.2,282.6 349.3,284.1 350.3,285.5 351.4,286.8 352.4,288.1 353.4,289.4 354.5,290.6 355.5,291.8 356.5,292.9 357.6,293.9 358.6,295.0 359.7,296.0 360.7,296.9 361.7,297.8 362.8,298.6 363.8,299.5 364.8,300.2 365.9,301.0 366.9,301.7 367.9,302.3 369.0,303.0 370.0,303.5 371.1,304.1 372.1,304.6 373.1,305.1 374.2,305.6 375.2,306.0 376.2,306.4 377.3,306.8 378.3,307.1 379.4,307.4 380.4,307.7 381.4,308.0 382.5,308.3 383.5,308.5 384.5,308.7 385.6,308.9 386.6,309.1 387.7,309.2 388.7,309.4 389.7,309.5 390.8,309.6 391.8,309.7 392.8,309.8 393.9,309.9 394.9,309.9 395.9,310.0 397.0,310.0 398.0,310.1 399.1,310.1 400.1,310.1 401.1,310.2 402.2,310.2 403.2,310.2 404.2,310.2 405.3,310.2 406.3,310.2 407.4,310.3 408.4,310.3 409.4,310.3 410.5,310.3 411.5,310.4 412.5,310.4 413.6,310.5 414.6,310.5 415.6,310.6 416.7,310.7 417.7,310.8" stroke="#8000FF"/>
<polyline points="83.8,301.7 84.8,300.6 85.9,299.6 86.9,298.6 88.0,297.8 89.0,297.5 90.0,297.2 91.1,297.1 92.1,297.0 93.1,296.8 94.2,296.7 95.2,296.4 96.3,295.8 97.3,295.1 98.3,294.3 99.4,293.5 100.4,292.8 101.4,292.0 102.5,291.2 103.5,290.4 104.5,289.5 105.6,288.6 106.6,287.7 107.7,286.7 108.7,285.7 109.7,284.7 110.8,283.7 111.8,282.6 112.8,281.4 113.9,280.2 114.9,279.0 116.0,277.8 117.0,276.5 118.0,275.2 119.1,273.9 120.1,272.5 121.1,271.1 122.2,269.6 123.2,268.1 124.3,266.6 125.3,265.0 126.3,263.4 127.4,261.8 128.4,260.1 129.4,258.5 130.5,256.7 131.5,254.9 132.5,253.1 133.6,251.3 134.6,249.4 135.7,247.5 136.7,245.6 137.7,243.6 138.8,241.6 139.8,239.5 140.8,237.5 141.9,235.3 142.9,233.2 144.0,231.0 145.0,228.8 146.0,226.5 147.1,224.2 148.1,221.9 149.1,219.6 150.2,217.4 151.2,215.5 152.3,213.5 153.3,211.6 154.3,209.7 155.4,207.8 156.4,205.9 157.4,204.0 158.5,202.1 159.5,200.3 160.5,198.4 161.6,196.6 162.6,194.7 163.7,192.9 164.7,191.0 165.7,189.2 166.8,187.4 167.8,185.5 168.8,183.7 169.9,181.8 170.9,180.0 172.0,178.1 173.0,176.2 174.0,174.3 175.1,172.4 176.1,170.5 177.1,168.6 178.2,166.7 179.2,164.7 180.3,162.7 181.3,160.7 182.3,158.7 183.4,156.6 184.4,154.5 185.4,152.4 186.5,150.2 187.5,148.0 188.5,145.8 189.6,143.6 190.6,141.5 191.7,139.3 192.7,137.2 193.7,135.1 194.8,133.0 195.8,131.0 196.8,129.0 197.9,126.9 198.9,125.0 200.0,123.0 201.0,121.1 202.0,119.3 203.1,117.6 204.1,115.9 205.1,114.3 206.2,112.7 207.2,111.2 208.2,109.8 209.3,108.5 210.3,107.2 211.4,105.9 212.4,104.7 213.4,103.6 214.5,102.5 215.5,101.5 216.5,100.5 217.6,99.5 218.6,98.6 219.7,97.8 220.7,97.0 221.7,96.2 222.8,95.5 223.8,94.7 224.8,94.1 225.9,93.4 226.9,92.8 228.0,92.2 229.0,91.6 230.0,91.1 231.1,90.5 232.1,90.0 233.1,89.5 234.2,89.0 235.2,88.6 236.2,88.3 237.3,88.0 238.3,87.8 239.4,87.6 240.4,87.5 241.4,87.4 242.5,87.4 243.5,87.4 244.5,87.5 245.6,87.7 246.6,87.8 247.7,88.1 248.7,88.3 249.7,88.7 250.8,89.0 251.8,89.5 252.8,89.9 253.9,90.4 254.9,91.0 256.0,91.6 257.0,92.2 258.0,92.9 259.1,93.6 260.1,94.4 261.1,95.2 262.2,96.1 263.2,97.1 264.2,98.1 265.3,99.1 266.3,100.3 267.4,101.5 268.4,102.9 269.4,104.3 270.5,105.7 271.5,107.3 272.5,109.0 273.6,110.8 274.6,112.7 275.7,114.7 276.7,116.8 277.7,118.9 278.8,121.2 279.8,123.5 280.8,125.9 281.9,128.4 282.9,130.8 284.0,133.3 285.0,135.9 286.0,138.4 287.1,141.0 288.1,143.5 289.1,146.1 290.2,148.6 291.2,151.0 292.2,153.5 293.3,155.9 294.3,158.3 295.4,160.7 296.4,163.1 297.4,165.6 298.5,168.0 299.5,170.4 300.5,172.9 301.6,175.4 302.6,177.9 303.7,180.5 304.7,183.1 305.7,185.8 306.8,188.5 307.8,191.3 308.8,194.1 309.9,197.0 310.9,200.0 311.9,202.9 313.0,205.9 314.0,208.9 315.1,211.9 316.1,214.8 317.1,217.8 318.2,220.8 319.2,223.7 320.2,226.6 321.3,229.4 322.3,232.3 323.4,235.0 324.4,237.8 325.4,240.4 326.5,243.0 327.5,245.6 328.5,248.0 329.6,250.5 330.6,252.8 331.7,255.1 332.7,257.3 333.7,259.5 334.8,261.6 335.8,263.7 336.8,265.7 337.9,267.7 338.9,269.5 339.9,271.4 341.0,273.2 342.0,274.9 343.1,276.6 344.1,278.2 345.1,279.8 346.2,281.3 347.2,282.8 348.2,284.2 349.3,285.6 350.3,286.9 351.4,288.2 352.4,289.4 353.4,290.6 354.5,291.7 355.5,292.8 356.5,293.9 357.6,294.9 358.6,295.9 359.7,296.8 360.7,297.7 361.7,298.6 362.8,299.4 363.8,300.1 364.8,300.9 365.9,301.6 366.9,302.2 367.9,302.8 369.0,303.4 370.0,304.0 371.1,304.5 372.1,305.0 373.1,305.5 374.2,305.9 375.2,306.3 376.2,306.7 377.3,307.0 378.3,307.3 379.4,307.6 380.4,307.9 381.4,308.2 382.5,308.4 383.5,308.6 384.5,308.8 385.6,309.0 386.6,309.1 387.7,309.3 388.7,309.4 389.7,309.5 390.8,309.6 391.8,309.7 392.8,309.8 393.9,309.9 394.9,309.9 395.9,310.0 397.0,310.0 398.0,310.0 399.1,310.1 400.1,310.1 401.1,310.1 402.2,310.2 403.2,310.2 404.2,310.2 405.3,310.2 406.3,310.2 407.4,310.2 408.4,310.2 409.4,310.2 410.5,310.3 411.5,310.3 412.5,310.4 413.6,310.4 414.6,310.5 415.6,310.6 416.7,310.7 417.7,310.8" stroke="#FF0080"/>
<polyline points="83.8,301.8 84.8,300.7 85.9,299.7 86.9,298.8 88.0,298.0 89.0,297.7 90.0,297.5 91.1,297.3 92.1,297.2 93.1,297.1 94.2,297.0 95.2,296.8 96.3,296.2 97.3,295.5 98.3,294.7 99.4,294.1 100.4,293.4 101.4,292.7 102.5,291.9 103.5,291.2 104.5,290.3 105.6,289.5 106.6,288.7 107.7,287.8 108.7,286.9 109.7,285.9 110.8,284.9 111.8,283.9 112.8,282.9 113.9,281.8 114.9,280.6 116.0,279.5 117.0,278.3 118.0,277.1 119.1,275.8 120.1,274.5 121.1,273.2 122.2,271.8 123.2,270.4 124.3,269.0 125.3,267.5 126.3,266.0 127.4,264.5 128.4,262.9 129.4,261.3 130.5,259.7 131.5,258.1 132.5,256.4 133.6,254.6 134.6,252.9 135.7,251.1 136.7,249.3 137.7,247.4 138.8,245.6 139.8,243.6 140.8,241.7 141.9,239.7 142.9,237.8 144.0,235.9 145.0,233.9 146.0,232.0 147.1,230.1 148.1,228.2 149.1,226.4 150.2,224.5 151.2,222.5 152.3,220.4 153.3,218.2 154.3,215.9 155.4,213.4 156.4,210.9 157.4,208.3 158.5,205.6 159.5,202.8 160.5,200.1 161.6,198.3 162.6,196.4 163.7,194.6 164.7,192.8 165.7,191.0 166.8,189.2 167.8,187.3 168.8,185.5 169.9,183.7 170.9,181.8 172.0,180.0 173.0,178.1 174.0,176.3 175.1,174.4 176.1,172.5 177.1,170.6 178.2,168.7 179.2,166.8 180.3,164.8 181.3,162.9 182.3,160.9 183.4,158.8 184.4,156.8 185.4,154.7 186.5,152.6 187.5,150.4 188.5,148.3 189.6,146.1 190.6,144.0 191.7,141.9 192.7,139.9 193.7,137.8 194.8,135.8 195.8,133.8 196.8,131.8 197.9,129.8 198.9,127.9 200.0,126.0 201.0,124.2 202.0,122.4 203.1,120.7 204.1,119.0 205.1,117.5 206.2,116.0 207.2,114.5 208.2,113.1 209.3,111.8 210.3,110.5 211.4,109.3 212.4,108.1 213.4,107.0 214.5,106.0 215.5,104.9 216.5,104.0 217.6,103.1 218.6,102.2 219.7,101.4 220.7,100.6 221.7,99.8 222.8,99.1 223.8,98.4 224.8,97.7 225.9,97.1 226.9,96.5 228.0,95.9 229.0,95.4 230.0,94.8 231.1,94.3 232.1,93.8 233.1,93.3 234.2,92.9 235.2,92.5 236.2,92.2 237.3,92.0 238.3,91.8 239.4,91.6 240.4,91.5 241.4,91.4 242.5,91.4 243.5,91.5 244.5,91.6 245.6,91.7 246.6,91.9 247.7,92.2 248.7,92.4 249.7,92.8 250.8,93.2 251.8,93.6 252.8,94.1 253.9,94.6 254.9,95.1 256.0,95.7 257.0,96.4 258.0,97.1 259.1,97.8 260.1,98.6 261.1,99.4 262.2,100.3 263.2,101.3 264.2,102.3 265.3,103.4 266.3,104.5 267.4,105.8 268.4,107.1 269.4,108.5 270.5,109.9 271.5,111.5 272.5,113.2 273.6,114.9 274.6,116.8 275.7,118.8 276.7,120.8 277.7,123.0 278.8,125.2 279.8,127.5 280.8,129.9 281.9,132.3 282.9,134.7 284.0,137.2 285.0,139.7 286.0,142.2 287.1,144.7 288.1,147.2 289.1,149.7 290.2,152.2 291.2,154.6 292.2,157.0 293.3,159.4 294.3,161.8 295.4,164.2 296.4,166.6 297.4,168.9 298.5,171.3 299.5,173.7 300.5,176.2 301.6,178.6 302.6,181.1 303.7,183.7 304.7,186.2 305.7,188.9 306.8,191.5 307.8,194.3 308.8,197.1 309.9,199.9 310.9,202.8 311.9,205.6 313.0,208.5 314.0,211.5 315.1,214.4 316.1,217.3 317.1,220.2 318.2,223.0 319.2,225.9 320.2,228.7 321.3,231.5 322.3,234.3 323.4,237.0 324.4,239.6 325.4,242.2 326.5,244.7 327.5,247.2 328.5,249.6 329.6,252.0 330.6,254.3 331.7,256.5 332.7,258.7 333.7,260.8 334.8,262.9 335.8,264.9 336.8,266.8 337.9,268.7 338.9,270.6 339.9,272.4 341.0,274.1 342.0,275.8 343.1,277.4 344.1,279.0 345.1,280.6 346.2,282.1 347.2,283.5 348.2,284.9 349.3,286.2 350.3,287.5 351.4,288.8 352.4,290.0 353.4,291.1 354.5,292.3 355.5,293.3 356.5,294.4 357.6,295.3 358.6,296.3 359.7,297.2 360.7,298.1 361.7,298.9 362.8,299.7 363.8,300.4 364.8,301.2 365.9,301.8 366.9,302.5 367.9,303.1 369.0,303.7 370.0,304.2 371.1,304.7 372.1,305.2 373.1,305.6 374.2,306.0 375.2,306.4 376.2,306.8 377.3,307.1 378.3,307.4 379.4,307.7 380.4,308.0 381.4,308.2 382.5,308.5 383.5,308.7 384.5,308.9 385.6,309.0 386.6,309.2 387.7,309.3 388.7,309.4 389.7,309.5 390.8,309.6 391.8,309.7 392.8,309.8 393.9,309.8 394.9,309.9 395.9,310.0 397.0,310.0 398.0,310.0 399.1,310.1 400.1,310.1 401.1,310.1 402.2,310.1 403.2,310.1 404.2,310.2 405.3,310.2 406.3,310.2 407.4,310.2 408.4,310.2 409.4,310.2 410.5,310.3 411.5,310.3 412.5,310.4 413.6,310.4 414.6,310.5 415.6,310.6 416.7,310.7 417.7,310.8" stroke="#FFFFFF"/>
<polyline points="83.8,301.8 84.8,300.7 85.9,299.7 86.9,298.8 88.0,298.0 89.0,297.7 90.0,297.5 91.1,297.3 92.1,297.2 93.1,297.1 94.2,297.0 95.2,296.8 96.3,296.2 97.3,295.5 98.3,294.7 99.4,294.1 100.4,293.4 101.4,292.7 102.5,291.9 103.5,291.2 104.5,290.3 105.6,289.5 106.6,288.7 107.7,287.8 108.7,286.9 109.7,285.9 110.8,284.9 111.8,283.9 112.8,282.9 113.9,281.8 114.9,280.6 116.0,279.5 117.0,278.3 118.0,277.1 119.1,275.8 120.1,274.5 121.1,273.2 122.2,271.8 123.2,270.4 124.3,269.0 125.3,267.5 126.3,266.0 127.4,264.5 128.4,262.9 129.4,261.3 130.5,259.7 131.5,258.1 132.5,256.4 133.6,254.6 134.6,252.9 135.7,251.1 136.7,249.3 137.7,247.4 138.8,245.6 139.8,243.6 140.8,241.7 141.9,239.7 142.9,237.8 144.0,235.9 145.0,233.9 146.0,232.0 147.1,230.1 148.1,228.2 149.1,226.4 150.2,224.5 151.2,222.5 152.3,220.4 153.3,218.2 154.3,215.9 155.4,213.4 156.4,210.9 157.4,208.3 158.5,205.6 159.5,203.6 160.5,201.8 161.6,200.0 162.6,198.2 163.7,196.4 164.7,194.6 165.7,192.8 166.8,191.0 167.8,189.2 168.8,187.3 169.9,185.5 170.9,183.7 172.0,181.9 173.0,180.1 174.0,178.2 175.1,176.4 176.1,174.5 177.1,172.7 178.2,170.8 179.2,168.9 180.3,167.0 181.3,165.0 182.3,163.1 183.4,161.1 184.4,159.0 185.4,157.0 186.5,154.9 187.5,152.8 188.5,150.7 189.6,148.6 190.6,146.6 191.7,144.5 192.7,142.5 193.7,140.5 194.8,138.5 195.8,136.6 196.8,134.6 197.9,132.7 198.9,130.8 200.0,129.0 201.0,127.2 202.0,125.5 203.1,123.8 204.1,122.2 205.1,120.7 206.2,119.2 207.2,117.8 208.2,116.4 209.3,115.1 210.3,113.9 211.4,112.7 212.4,111.5 213.4,110.4 214.5,109.4 215.5,108.4 216.5,107.5 217.6,106.6 218.6,105.7 219.7,104.9 220.7,104.2 221.7,103.4 222.8,102.7 223.8,102.1 224.8,101.4 225.9,100.8 226.9,100.2 228.0,99.7 229.0,99.1 230.0,98.6 231.1,98.1 232.1,97.6 233.1,97.2 234.2,96.8 235.2,96.4 236.2,96.1 237.3,95.9 238.3,95.7 239.4,95.6 240.4,95.5 241.4,95.5 242.5,95.5 243.5,95.5 244.5,95.6 245.6,95.8 246.6,96.0 247.7,96.3 248.7,96.6 249.7,96.9 250.8,97.3 251.8,97.7 252.8,98.2 253.9,98.7 254.9,99.3 256.0,99.9 257.0,100.6 258.0,101.3 259.1,102.0 260.1,102.8 261.1,103.6 262.2,104.5 263.2,105.5 264.2,106.5 265.3,107.6 266.3,108.8 267.4,110.0 268.4,111.3 269.4,112.7 270.5,114.2 271.5,115.7 272.5,117.4 273.6,119.1 274.6,121.0 275.7,122.9 276.7,124.9 277.7,127.0 278.8,129.2 279.8,131.5 280.8,133.8 281.9,136.2 282.9,138.6 284.0,141.0 285.0,143.5 286.0,145.9 287.1,148.4 288.1,150.9 289.1,153.3 290.2,155.8 291.2,158.2 292.2,160.5 293.3,162.9 294.3,165.3 295.4,167.6 296.4,170.0 297.4,172.3 298.5,174.7 299.5,177.1 300.5,179.5 301.6,181.9 302.6,184.3 303.7,186.8 304.7,189.4 305.7,191.9 306.8,194.6 307.8,197.2 308.8,200.0 309.9,202.7 310.9,205.5 311.9,208.4 313.0,211.2 314.0,214.0 315.1,216.9 316.1,219.7 317.1,222.5 318.2,225.3 319.2,228.1 320.2,230.9 321.3,233.6 322.3,236.2 323.4,238.9 324.4,241.5 325.4,244.0 326.5,246.5 327.5,248.9 328.5,251.2 329.6,253.5 330.6,255.7 331.7,257.9 332.7,260.0 333.7,262.1 334.8,264.1 335.8,266.1 336.8,268.0 337.9,269.8 338.9,271.6 339.9,273.4 341.0,275.1 342.0,276.7 343.1,278.3 344.1,279.9 345.1,281.4 346.2,282.8 347.2,284.2 348.2,285.6 349.3,286.9 350.3,288.1 351.4,289.4 352.4,290.5 353.4,291.7 354.5,292.8 355.5,293.8 356.5,294.8 357.6,295.8 358.6,296.7 359.7,297.6 360.7,298.4 361.7,299.2 362.8,300.0 363.8,300.7 364.8,301.4 365.9,302.1 366.9,302.7 367.9,303.3 369.0,303.9 370.0,304.4 371.1,304.9 372.1,305.4 373.1,305.8 374.2,306.2 375.2,306.6 376.2,306.9 377.3,307.2 378.3,307.5 379.4,307.8 380.4,308.1 381.4,308.3 382.5,308.5 383.5,308.7 384.5,308.9 385.6,309.1 386.6,309.2 387.7,309.3 388.7,309.4 389.7,309.5 390.8,309.6 391.8,309.7 392.8,309.8 393.9,309.8 394.9,309.9 395.9,309.9 397.0,310.0 398.0,310.0 399.1,310.1 400.1,310.1 401.1,310.1 402.2,310.1 403.2,310.1 404.2,310.1 405.3,310.2 406.3,310.2 407.4,310.2 408.4,310.2 409.4,310.2 410.5,310.2 411.5,310.3 412.5,310.4 413.6,310.4 414.6,310.5 415.6,310.6 416.7,310.7 417.7,310.8" stroke="#C0C0C0"/>
<polyline points="83.8,301.8 84.8,300.7 85.9,299.7 86.9,298.8 88.0,298.0 89.0,297.7 90.0,297.5 91.1,297.3 92.1,297.2 93.1,297.1 94.2,297.0 95.2,296.8 96.3,296.2 97.3,295.5 98.3,294.7 99.4,294.1 100.4,293.4 101.4,292.7 102.5,291.9 103.5,291.2 104.5,290.3 105.6,289.5 106.6,288.7 107.7,287.8 108.7,286.9 109.7,285.9 110.8,284.9 111.8,283.9 112.8,282.9 113.9,281.8 114.9,280.6 116.0,279.5 117.0,278.3 118.0,277.1 119.1,275.8 120.1,274.5 121.1,273.2 122.2,271.8 123.2,270.4 124.3,269.0 125.3,267.5 126.3,266.0 127.4,264.5 128.4,262.9 129.4,261.3 130.5,259.7 131.5,258.1 132.5,256.4 133.6,254.6 134.6,252.9 135.7,251.1 136.7,249.3 137.7,247.4 138.8,245.6 139.8,243.6 140.8,241.7 141.9,239.7 142.9,237.8 144.0,235.9 145.0,233.9 146.0,232.0 147.1,230.1 148.1,228.2 149.1,226.4 150.2,224.5 151.2,222.5 152.3,220.4 153.3,218.2 154.3,215.9 155.4,213.4 156.4,211.5 157.4,209.7 158.5,207.9 159.5,206.1 160.5,204.3 161.6,202.5 162.6,200.7 163.7,199.0 164.7,197.2 165.7,195.4 166.8,193.7 167.8,191.9 168.8,190.1 169.9,188.3 170.9,186.5 172.0,184.8 173.0,183.0 174.0,181.2 175.1,179.3 176.1,177.5 177.1,175.7 178.2,173.9 179.2,172.0 180.3,170.1 181.3,168.2 182.3,166.3 183.4,164.4 184.4,162.4 185.4,160.5 186.5,158.4 187.5,156.4 188.5,154.4 189.6,152.4 190.6,150.4 191.7,148.4 192.7,146.5 193.7,144.5 194.8,142.6 195.8,140.7 196.8,138.9 197.9,137.0 198.9,135.2 200.0,133.5 201.0,131.7 202.0,130.1 203.1,128.5 204.1,126.9 205.1,125.4 206.2,124.0 207.2,122.7 208.2,121.3 209.3,120.1 210.3,118.9 211.4,117.7 212.4,116.6 213.4,115.6 214.5,114.6 215.5,113.7 216.5,112.7 217.6,111.9 218.6,111.1 219.7,110.3 220.7,109.5 221.7,108.8 222.8,108.2 223.8,107.5 224.8,106.9 225.9,106.3 226.9,105.8 228.0,105.3 229.0,104.8 230.0,104.3 231.1,103.8 232.1,103.4 233.1,103.0 234.2,102.6 235.2,102.3 236.2,102.0 237.3,101.8 238.3,101.7 239.4,101.5 240.4,101.5 241.4,101.5 242.5,101.5 243.5,101.6 244.5,101.7 245.6,101.9 246.6,102.1 247.7,102.4 248.7,102.7 249.7,103.1 250.8,103.5 251.8,103.9 252.8,104.4 253.9,105.0 254.9,105.6 256.0,106.2 257.0,106.9 258.0,107.6 259.1,108.3 260.1,109.1 261.1,110.0 262.2,110.9 263.2,111.8 264.2,112.9 265.3,113.9 266.3,115.1 267.4,116.3 268.4,117.6 269.4,119.0 270.5,120.5 271.5,122.0 272.5,123.6 273.6,125.4 274.6,127.2 275.7,129.1 276.7,131.1 277.7,133.1 278.8,135.3 279.8,137.5 280.8,139.7 281.9,142.0 282.9,144.4 284.0,146.8 285.0,149.2 286.0,151.6 287.1,154.0 288.1,156.4 289.1,158.8 290.2,161.2 291.2,163.5 292.2,165.8 293.3,168.2 294.3,170.5 295.4,172.8 296.4,175.1 297.4,177.4 298.5,179.7 299.5,182.0 300.5,184.4 301.6,186.8 302.6,189.2 303.7,191.6 304.7,194.1 305.7,196.6 306.8,199.1 307.8,201.7 308.8,204.4 309.9,207.0 310.9,209.7 311.9,212.4 313.0,215.2 314.0,217.9 315.1,220.6 316.1,223.4 317.1,226.1 318.2,228.8 319.2,231.4 320.2,234.1 321.3,236.7 322.3,239.2 323.4,241.7 324.4,244.2 325.4,246.6 326.5,249.0 327.5,251.3 328.5,253.6 329.6,255.8 330.6,257.9 331.7,260.0 332.7,262.1 333.7,264.0 334.8,266.0 335.8,267.9 336.8,269.7 337.9,271.5 338.9,273.2 339.9,274.9 341.0,276.5 342.0,278.1 343.1,279.6 344.1,281.1 345.1,282.6 346.2,283.9 347.2,285.3 348.2,286.6 349.3,287.9 350.3,289.1 351.4,290.3 352.4,291.4 353.4,292.5 354.5,293.5 355.5,294.5 356.5,295.5 357.6,296.4 358.6,297.3 359.7,298.2 360.7,299.0 361.7,299.8 362.8,300.5 363.8,301.2 364.8,301.9 365.9,302.5 366.9,303.1 367.9,303.7 369.0,304.2 370.0,304.7 371.1,305.2 372.1,305.6 373.1,306.0 374.2,306.4 375.2,306.8 376.2,307.1 377.3,307.4 378.3,307.7 379.4,308.0 380.4,308.2 381.4,308.4 382.5,308.6 383.5,308.8 384.5,309.0 385.6,309.1 386.6,309.3 387.7,309.4 388.7,309.5 389.7,309.6 390.8,309.6 391.8,309.7 392.8,309.8 393.9,309.8 394.9,309.9 395.9,309.9 397.0,310.0 398.0,310.0 399.1,310.0 400.1,310.1 401.1,310.1 402.2,310.1 403.2,310.1 404.2,310.1 405.3,310.1 406.3,310.1 407.4,310.1 408.4,310.1 409.4,310.2 410.5,310.2 411.5,310.3 412.5,310.3 413.6,310.4 414.6,310.5 415.6,310.6 416.7,310.7 417.7,310.8" stroke="#808080"/>
<polyline points="83.8,301.8 84.8,300.7 85.9,299.8 86.9,298.8 88.0,298.1 89.0,297.7 90.0,297.5 91.1,297.3 92.1,297.2 93.1,297.1 94.2,297.0 95.2,296.8 96.3,296.2 97.3,295.5 98.3,294.8 99.4,294.1 100.4,293.5 101.4,292.8 102.5,292.0 103.5,291.2 104.5,290.4 105.6,289.6 106.6,288.8 107.7,287.9 108.7,287.0 109.7,286.1 110.8,285.1 111.8,284.1 112.8,283.0 113.9,282.0 114.9,280.8 116.0,279.7 117.0,278.5 118.0,277.3 119.1,276.0 120.1,274.8 121.1,273.4 122.2,272.1 123.2,270.7 124.3,269.3 125.3,267.8 126.3,266.3 127.4,264.8 128.4,263.3 129.4,261.7 130.5,260.1 131.5,258.4 132.5,256.8 133.6,255.0 134.6,253.3 135.7,251.5 136.7,249.7 137.7,247.9 138.8,246.0 139.8,244.1 140.8,242.2 141.9,240.3 142.9,238.3 144.0,236.4 145.0,234.5 146.0,232.6 147.1,230.7 148.1,228.8 149.1,227.0 150.2,225.1 151.2,223.3 152.3,221.5 153.3,219.7 154.3,217.9 155.4,216.1 156.4,214.3 157.4,212.5 158.5,210.8 159.5,209.0 160.5,207.3 161.6,205.5 162.6,203.8 163.7,202.0 164.7,200.3 165.7,198.5 166.8,196.8 167.8,195.1 168.8,193.3 169.9,191.6 170.9,189.8 172.0,188.1 173.0,186.3 174.0,184.6 175.1,182.8 176.1,181.0 177.1,179.3 178.2,177.5 179.2,175.7 180.3,173.8 181.3,172.0 182.3,170.2 183.4,168.3 184.4,166.4 185.4,164.5 186.5,162.6 187.5,160.6 188.5,158.7 189.6,156.8 190.6,154.9 191.7,153.0 192.7,151.1 193.7,149.3 194.8,147.4 195.8,145.6 196.8,143.9 197.9,142.1 198.9,140.4 200.0,138.7 201.0,137.0 202.0,135.4 203.1,133.9 204.1,132.4 205.1,131.0 206.2,129.7 207.2,128.4 208.2,127.1 209.3,125.9 210.3,124.8 211.4,123.7 212.4,122.6 213.4,121.6 214.5,120.7 215.5,119.7 216.5,118.9 217.6,118.1 218.6,117.3 219.7,116.5 220.7,115.8 221.7,115.2 222.8,114.5 223.8,113.9 224.8,113.4 225.9,112.8 226.9,112.3 228.0,111.8 229.0,111.4 230.0,110.9 231.1,110.5 232.1,110.1 233.1,109.7 234.2,109.4 235.2,109.1 236.2,108.9 237.3,108.7 238.3,108.6 239.4,108.5 240.4,108.5 241.4,108.5 242.5,108.6 243.5,108.7 244.5,108.8 245.6,109.0 246.6,109.3 247.7,109.6 248.7,109.9 249.7,110.3 250.8,110.7 251.8,111.2 252.8,111.7 253.9,112.3 254.9,112.9 256.0,113.5 257.0,114.2 258.0,114.9 259.1,115.7 260.1,116.5 261.1,117.3 262.2,118.2 263.2,119.2 264.2,120.2 265.3,121.3 266.3,122.5 267.4,123.7 268.4,125.0 269.4,126.4 270.5,127.8 271.5,129.3 272.5,130.9 273.6,132.6 274.6,134.4 275.7,136.3 276.7,138.2 277.7,140.2 278.8,142.3 279.8,144.5 280.8,146.6 281.9,148.9 282.9,151.2 284.0,153.5 285.0,155.8 286.0,158.1 287.1,160.5 288.1,162.8 289.1,165.1 290.2,167.5 291.2,169.8 292.2,172.0 293.3,174.3 294.3,176.6 295.4,178.8 296.4,181.1 297.4,183.3 298.5,185.6 299.5,187.8 300.5,190.1 301.6,192.4 302.6,194.8 303.7,197.1 304.7,199.5 305.7,201.9 306.8,204.4 307.8,206.9 308.8,209.5 309.9,212.0 310.9,214.6 311.9,217.2 313.0,219.8 314.0,222.4 315.1,225.0 316.1,227.6 317.1,230.2 318.2,232.8 319.2,235.3 320.2,237.8 321.3,240.3 322.3,242.7 323.4,245.1 324.4,247.5 325.4,249.8 326.5,252.0 327.5,254.2 328.5,256.4 329.6,258.4 330.6,260.5 331.7,262.5 332.7,264.4 333.7,266.3 334.8,268.1 335.8,269.9 336.8,271.7 337.9,273.4 338.9,275.0 339.9,276.6 341.0,278.2 342.0,279.7 343.1,281.1 344.1,282.6 345.1,283.9 346.2,285.3 347.2,286.6 348.2,287.8 349.3,289.0 350.3,290.2 351.4,291.3 352.4,292.4 353.4,293.4 354.5,294.4 355.5,295.4 356.5,296.3 357.6,297.2 358.6,298.0 359.7,298.8 360.7,299.6 361.7,300.4 362.8,301.1 363.8,301.7 364.8,302.4 365.9,303.0 366.9,303.5 367.9,304.1 369.0,304.6 370.0,305.1 371.1,305.5 372.1,305.9 373.1,306.3 374.2,306.7 375.2,307.0 376.2,307.3 377.3,307.6 378.3,307.9 379.4,308.1 380.4,308.3 381.4,308.5 382.5,308.7 383.5,308.9 384.5,309.1 385.6,309.2 386.6,309.3 387.7,309.4 388.7,309.5 389.7,309.6 390.8,309.7 391.8,309.7 392.8,309.8 393.9,309.8 394.9,309.9 395.9,309.9 397.0,310.0 398.0,310.0 399.1,310.0 400.1,310.0 401.1,310.0 402.2,310.1 403.2,310.1 404.2,310.1 405.3,310.1 406.3,310.1 407.4,310.1 408.4,310.1 409.4,310.1 410.5,310.2 411.5,310.2 412.5,310.3 413.6,310.4 414.6,310.5 415.6,310.6 416.7,310.7 417.7,310.8" stroke="#FFFF80"/>
<polyline points="83.8,302.0 84.8,300.9 85.9,299.9 86.9,299.0 88.0,298.2 89.0,297.9 90.0,297.6 91.1,297.5 92.1,297.4 93.1,297.4 94.2,297.3 95.2,297.0 96.3,296.5 97.3,295.8 98.3,295.2 99.4,294.5 100.4,293.9 101.4,293.2 102.5,292.5 103.5,291.8 104.5,291.1 105.6,290.3 106.6,289.5 107.7,288.7 108.7,287.9 109.7,287.0 110.8,286.1 111.8,285.1 112.8,284.1 113.9,283.1 114.9,282.1 116.0,281.0 117.0,279.9 118.0,278.7 119.1,277.5 120.1,276.3 121.1,275.1 122.2,273.8 123.2,272.5 124.3,271.1 125.3,269.7 126.3,268.3 127.4,266.9 128.4,265.4 129.4,263.9 130.5,262.4 131.5,260.8 132.5,259.2 133.6,257.6 134.6,255.9 135.7,254.3 136.7,252.6 137.7,250.8 138.8,249.0 139.8,247.3 140.8,245.4 141.9,243.6 142.9,241.8 144.0,239.9 145.0,238.1 146.0,236.3 147.1,234.5 148.1,232.7 149.1,231.0 150.2,229.2 151.2,227.4 152.3,225.7 153.3,223.9 154.3,222.2 155.4,220.5 156.4,218.7 157.4,217.0 158.5,215.3 159.5,213.6 160.5,211.9 161.6,210.2 162.6,208.5 163.7,206.8 164.7,205.1 165.7,203.4 166.8,201.8 167.8,200.1 168.8,198.4 169.9,196.7 170.9,195.0 172.0,193.3 173.0,191.6 174.0,189.9 175.1,188.2 176.1,186.5 177.1,184.8 178.2,183.1 179.2,181.4 180.3,179.7 181.3,177.9 182.3,176.2 183.4,174.4 184.4,172.6 185.4,170.9 186.5,169.0 187.5,167.2 188.5,165.4 189.6,163.6 190.6,161.9 191.7,160.1 192.7,158.4 193.7,156.7 194.8,155.0 195.8,153.3 196.8,151.7 197.9,150.0 198.9,148.4 200.0,146.9 201.0,145.4 202.0,143.9 203.1,142.5 204.1,141.1 205.1,139.8 206.2,138.5 207.2,137.3 208.2,136.2 209.3,135.0 210.3,134.0 211.4,133.0 212.4,132.0 213.4,131.1 214.5,130.2 215.5,129.3 216.5,128.5 217.6,127.8 218.6,127.0 219.7,126.4 220.7,125.7 221.7,125.1 222.8,124.5 223.8,124.0 224.8,123.5 225.9,123.0 226.9,122.5 228.0,122.1 229.0,121.7 230.0,121.3 231.1,121.0 232.1,120.6 233.1,120.3 234.2,120.1 235.2,119.8 236.2,119.7 237.3,119.6 238.3,119.5 239.4,119.4 240.4,119.5 241.4,119.5 242.5,119.6 243.5,119.8 244.5,120.0 245.6,120.2 246.6,120.5 247.7,120.8 248.7,121.2 249.7,121.6 250.8,122.1 251.8,122.6 252.8,123.1 253.9,123.7 254.9,124.3 256.0,125.0 257.0,125.7 258.0,126.4 259.1,127.2 260.1,128.0 261.1,128.9 262.2,129.8 263.2,130.8 264.2,131.9 265.3,133.0 266.3,134.1 267.4,135.3 268.4,136.6 269.4,138.0 270.5,139.4 271.5,140.9 272.5,142.4 273.6,144.1 274.6,145.8 275.7,147.6 276.7,149.4 277.7,151.4 278.8,153.4 279.8,155.4 280.8,157.5 281.9,159.6 282.9,161.8 284.0,164.0 285.0,166.2 286.0,168.4 287.1,170.7 288.1,172.9 289.1,175.1 290.2,177.4 291.2,179.6 292.2,181.7 293.3,183.9 294.3,186.1 295.4,188.3 296.4,190.4 297.4,192.6 298.5,194.8 299.5,197.0 300.5,199.2 301.6,201.4 302.6,203.6 303.7,205.9 304.7,208.1 305.7,210.4 306.8,212.7 307.8,215.1 308.8,217.5 309.9,219.9 310.9,222.3 311.9,224.7 313.0,227.1 314.0,229.5 315.1,231.9 316.1,234.3 317.1,236.7 318.2,239.0 319.2,241.4 320.2,243.7 321.3,245.9 322.3,248.2 323.4,250.4 324.4,252.5 325.4,254.6 326.5,256.7 327.5,258.7 328.5,260.7 329.6,262.6 330.6,264.5 331.7,266.3 332.7,268.1 333.7,269.9 334.8,271.6 335.8,273.2 336.8,274.8 337.9,276.4 338.9,277.9 339.9,279.4 341.0,280.8 342.0,282.2 343.1,283.5 344.1,284.9 345.1,286.1 346.2,287.4 347.2,288.5 348.2,289.7 349.3,290.8 350.3,291.9 351.4,292.9 352.4,293.9 353.4,294.9 354.5,295.8 355.5,296.7 356.5,297.5 357.6,298.4 358.6,299.2 359.7,299.9 360.7,300.6 361.7,301.3 362.8,301.9 363.8,302.6 364.8,303.1 365.9,303.7 366.9,304.2 367.9,304.7 369.0,305.2 370.0,305.6 371.1,306.0 372.1,306.4 373.1,306.7 374.2,307.1 375.2,307.4 376.2,307.7 377.3,307.9 378.3,308.1 379.4,308.4 380.4,308.6 381.4,308.7 382.5,308.9 383.5,309.0 384.5,309.2 385.6,309.3 386.6,309.4 387.7,309.5 388.7,309.6 389.7,309.6 390.8,309.7 391.8,309.7 392.8,309.8 393.9,309.8 394.9,309.9 395.9,309.9 397.0,309.9 398.0,310.0 399.1,310.0 400.1,310.0 401.1,310.0 402.2,310.0 403.2,310.0 404.2,310.0 405.3,310.0 406.3,310.0 407.4,310.0 408.4,310.1 409.4,310.1 410.5,310.1 411.5,310.2 412.5,310.3 413.6,310.3 414.6,310.4 415.6,310.5 416.7,310.6 417.7,310.8" stroke="#80FFFF"/>
<polyline points="83.8,302.1 84.8,301.0 85.9,300.0 86.9,299.1 88.0,298.3 89.0,298.0 90.0,297.8 91.1,297.7 92.1,297.6 93.1,297.5 94.2,297.5 95.2,297.3 96.3,296.8 97.3,296.1 98.3,295.5 99.4,294.9 100.4,294.3 101.4,293.7 102.5,293.0 103.5,292.4 104.5,291.7 105.6,290.9 106.6,290.2 107.7,289.4 108.7,288.6 109.7,287.8 110.8,287.0 111.8,286.1 112.8,285.1 113.9,284.2 114.9,283.2 116.0,282.1 117.0,281.1 118.0,280.0 119.1,278.9 120.1,277.7 121.1,276.5 122.2,275.3 123.2,274.0 124.3,272.8 125.3,271.5 126.3,270.1 127.4,268.7 128.4,267.3 129.4,265.9 130.5,264.4 131.5,263.0 132.5,261.4 133.6,259.9 134.6,258.3 135.7,256.7 136.7,255.1 137.7,253.5 138.8,251.8 139.8,250.1 140.8,248.4 141.9,246.6 142.9,244.9 144.0,243.2 145.0,241.4 146.0,239.7 147.1,238.0 148.1,236.3 149.1,234.6 150.2,232.9 151.2,231.2 152.3,229.5 153.3,227.8 154.3,226.1 155.4,224.4 156.4,222.8 157.4,221.1 158.5,219.4 159.5,217.8 160.5,216.1 161.6,214.5 162.6,212.8 163.7,211.2 164.7,209.5 165.7,207.9 166.8,206.3 167.8,204.6 168.8,203.0 169.9,201.3 170.9,199.7 172.0,198.1 173.0,196.4 174.0,194.8 175.1,193.2 176.1,191.5 177.1,189.9 178.2,188.3 179.2,186.6 180.3,185.0 181.3,183.3 182.3,181.7 183.4,180.0 184.4,178.3 185.4,176.6 186.5,174.9 187.5,173.2 188.5,171.5 189.6,169.9 190.6,168.2 191.7,166.6 192.7,165.0 193.7,163.4 194.8,161.8 195.8,160.3 196.8,158.7 197.9,157.2 198.9,155.8 200.0,154.3 201.0,152.9 202.0,151.6 203.1,150.3 204.1,149.0 205.1,147.8 206.2,146.6 207.2,145.5 208.2,144.4 209.3,143.3 210.3,142.4 211.4,141.4 212.4,140.5 213.4,139.6 214.5,138.8 215.5,138.0 216.5,137.3 217.6,136.6 218.6,135.9 219.7,135.3 220.7,134.7 221.7,134.1 222.8,133.6 223.8,133.1 224.8,132.6 225.9,132.2 226.9,131.8 228.0,131.4 229.0,131.1 230.0,130.8 231.1,130.5 232.1,130.2 233.1,129.9 234.2,129.7 235.2,129.6 236.2,129.5 237.3,129.4 238.3,129.4 239.4,129.4 240.4,129.5 241.4,129.6 242.5,129.7 243.5,129.9 244.5,130.1 245.6,130.4 246.6,130.7 247.7,131.1 248.7,131.5 249.7,131.9 250.8,132.4 251.8,132.9 252.8,133.5 253.9,134.1 254.9,134.7 256.0,135.4 257.0,136.1 258.0,136.9 259.1,137.7 260.1,138.6 261.1,139.5 262.2,140.4 263.2,141.4 264.2,142.4 265.3,143.5 266.3,144.7 267.4,145.9 268.4,147.2 269.4,148.5 270.5,149.9 271.5,151.3 272.5,152.9 273.6,154.5 274.6,156.1 275.7,157.9 276.7,159.7 277.7,161.5 278.8,163.4 279.8,165.4 280.8,167.4 281.9,169.4 282.9,171.5 284.0,173.6 285.0,175.7 286.0,177.8 287.1,180.0 288.1,182.1 289.1,184.2 290.2,186.4 291.2,188.5 292.2,190.6 293.3,192.7 294.3,194.8 295.4,196.9 296.4,199.0 297.4,201.1 298.5,203.2 299.5,205.3 300.5,207.4 301.6,209.5 302.6,211.6 303.7,213.8 304.7,215.9 305.7,218.1 306.8,220.3 307.8,222.5 308.8,224.8 309.9,227.0 310.9,229.2 311.9,231.5 313.0,233.7 314.0,236.0 315.1,238.2 316.1,240.4 317.1,242.6 318.2,244.8 319.2,246.9 320.2,249.0 321.3,251.1 322.3,253.2 323.4,255.2 324.4,257.2 325.4,259.1 326.5,261.0 327.5,262.8 328.5,264.7 329.6,266.4 330.6,268.2 331.7,269.8 332.7,271.5 333.7,273.1 334.8,274.6 335.8,276.2 336.8,277.7 337.9,279.1 338.9,280.5 339.9,281.9 341.0,283.2 342.0,284.5 343.1,285.7 344.1,286.9 345.1,288.1 346.2,289.2 347.2,290.4 348.2,291.4 349.3,292.4 350.3,293.4 351.4,294.4 352.4,295.3 353.4,296.2 354.5,297.1 355.5,297.9 356.5,298.7 357.6,299.4 358.6,300.2 359.7,300.9 360.7,301.5 361.7,302.2 362.8,302.8 363.8,303.3 364.8,303.9 365.9,304.4 366.9,304.8 367.9,305.3 369.0,305.7 370.0,306.1 371.1,306.5 372.1,306.8 373.1,307.1 374.2,307.4 375.2,307.7 376.2,308.0 377.3,308.2 378.3,308.4 379.4,308.6 380.4,308.8 381.4,308.9 382.5,309.1 383.5,309.2 384.5,309.3 385.6,309.4 386.6,309.5 387.7,309.5 388.7,309.6 389.7,309.7 390.8,309.7 391.8,309.8 392.8,309.8 393.9,309.8 394.9,309.9 395.9,309.9 397.0,309.9 398.0,309.9 399.1,309.9 400.1,310.0 401.1,310.0 402.2,310.0 403.2,310.0 404.2,310.0 405.3,310.0 406.3,310.0 407.4,310.0 408.4,310.0 409.4,310.0 410.5,310.1 411.5,310.1 412.5,310.2 413.6,310.3 414.6,310.4 415.6,310.5 416.7,310.6 417.7,310.8" stroke="#FF80FF"/>
<polyline points="83.8,302.1 84.8,301.0 85.9,300.1 86.9,299.2 88.0,298.4 89.0,298.1 90.0,297.9 91.1,297.8 92.1,297.7 93.1,297.7 94.2,297.6 95.2,297.4 96.3,296.9 97.3,296.3 98.3,295.7 99.4,295.1 100.4,294.6 101.4,294.0 102.5,293.3 103.5,292.7 104.5,292.0 105.6,291.3 106.6,290.6 107.7,289.9 108.7,289.1 109.7,288.3 110.8,287.5 111.8,286.6 112.8,285.7 113.9,284.8 114.9,283.8 116.0,282.8 117.0,281.8 118.0,280.8 119.1,279.7 120.1,278.6 121.1,277.4 122.2,276.2 123.2,275.0 124.3,273.8 125.3,272.5 126.3,271.2 127.4,269.9 128.4,268.5 129.4,267.1 130.5,265.7 131.5,264.2 132.5,262.8 133.6,261.3 134.6,259.8 135.7,258.2 136.7,256.6 137.7,255.1 138.8,253.4 139.8,251.8 140.8,250.1 141.9,248.4 142.9,246.8 144.0,245.1 145.0,243.4 146.0,241.7 147.1,240.1 148.1,238.4 149.1,236.7 150.2,235.1 151.2,233.4 152.3,231.7 153.3,230.1 154.3,228.5 155.4,226.8 156.4,225.2 157.4,223.5 158.5,221.9 159.5,220.3 160.5,218.6 161.6,217.0 162.6,215.4 163.7,213.8 164.7,212.2 165.7,210.6 166.8,209.0 167.8,207.3 168.8,205.7 169.9,204.1 170.9,202.5 172.0,200.9 173.0,199.3 174.0,197.7 175.1,196.1 176.1,194.5 177.1,192.9 178.2,191.3 179.2,189.7 180.3,188.1 181.3,186.5 182.3,184.9 183.4,183.3 184.4,181.7 185.4,180.1 186.5,178.5 187.5,176.8 188.5,175.2 189.6,173.6 190.6,172.0 191.7,170.5 192.7,168.9 193.7,167.4 194.8,165.9 195.8,164.5 196.8,163.0 197.9,161.6 198.9,160.2 200.0,158.8 201.0,157.5 202.0,156.2 203.1,154.9 204.1,153.7 205.1,152.6 206.2,151.4 207.2,150.4 208.2,149.3 209.3,148.3 210.3,147.4 211.4,146.5 212.4,145.6 213.4,144.8 214.5,144.0 215.5,143.3 216.5,142.6 217.6,141.9 218.6,141.2 219.7,140.6 220.7,140.1 221.7,139.6 222.8,139.1 223.8,138.6 224.8,138.2 225.9,137.8 226.9,137.4 228.0,137.0 229.0,136.7 230.0,136.4 231.1,136.2 232.1,135.9 233.1,135.7 234.2,135.6 235.2,135.4 236.2,135.4 237.3,135.3 238.3,135.3 239.4,135.4 240.4,135.5 241.4,135.6 242.5,135.8 243.5,136.0 244.5,136.2 245.6,136.5 246.6,136.8 247.7,137.2 248.7,137.6 249.7,138.1 250.8,138.6 251.8,139.1 252.8,139.7 253.9,140.3 254.9,141.0 256.0,141.7 257.0,142.4 258.0,143.2 259.1,144.0 260.1,144.9 261.1,145.8 262.2,146.7 263.2,147.7 264.2,148.8 265.3,149.9 266.3,151.0 267.4,152.2 268.4,153.5 269.4,154.8 270.5,156.2 271.5,157.6 272.5,159.1 273.6,160.7 274.6,162.3 275.7,164.0 276.7,165.8 277.7,167.6 278.8,169.5 279.8,171.4 280.8,173.3 281.9,175.3 282.9,177.3 284.0,179.3 285.0,181.4 286.0,183.4 287.1,185.5 288.1,187.6 289.1,189.7 290.2,191.8 291.2,193.8 292.2,195.9 293.3,197.9 294.3,200.0 295.4,202.0 296.4,204.1 297.4,206.1 298.5,208.2 299.5,210.3 300.5,212.3 301.6,214.4 302.6,216.5 303.7,218.5 304.7,220.6 305.7,222.7 306.8,224.9 307.8,227.0 308.8,229.1 309.9,231.3 310.9,233.4 311.9,235.6 313.0,237.7 314.0,239.8 315.1,242.0 316.1,244.0 317.1,246.1 318.2,248.2 319.2,250.2 320.2,252.2 321.3,254.2 322.3,256.1 323.4,258.0 324.4,259.9 325.4,261.8 326.5,263.6 327.5,265.3 328.5,267.0 329.6,268.7 330.6,270.3 331.7,271.9 332.7,273.5 333.7,275.0 334.8,276.5 335.8,277.9 336.8,279.4 337.9,280.7 338.9,282.1 339.9,283.4 341.0,284.6 342.0,285.8 343.1,287.0 344.1,288.2 345.1,289.3 346.2,290.4 347.2,291.4 348.2,292.4 349.3,293.4 350.3,294.4 351.4,295.3 352.4,296.2 353.4,297.0 354.5,297.8 355.5,298.6 356.5,299.4 357.6,300.1 358.6,300.8 359.7,301.4 360.7,302.1 361.7,302.7 362.8,303.2 363.8,303.8 364.8,304.3 365.9,304.8 366.9,305.2 367.9,305.6 369.0,306.0 370.0,306.4 371.1,306.8 372.1,307.1 373.1,307.4 374.2,307.7 375.2,307.9 376.2,308.1 377.3,308.4 378.3,308.5 379.4,308.7 380.4,308.9 381.4,309.0 382.5,309.1 383.5,309.3 384.5,309.4 385.6,309.4 386.6,309.5 387.7,309.6 388.7,309.6 389.7,309.7 390.8,309.7 391.8,309.8 392.8,309.8 393.9,309.8 394.9,309.8 395.9,309.9 397.0,309.9 398.0,309.9 399.1,309.9 400.1,309.9 401.1,309.9 402.2,309.9 403.2,310.0 404.2,310.0 405.3,310.0 406.3,310.0 407.4,310.0 408.4,310.0 409.4,310.0 410.5,310.1 411.5,310.1 412.5,310.2 413.6,310.3 414.6,310.4 415.6,310.5 416.7,310.6 417.7,310.8" stroke="#404040"/>
<polyline points="83.8,302.3 84.8,301.2 85.9,300.2 86.9,299.3 88.0,298.6 89.0,298.3 90.0,298.1 91.1,297.9 92.1,297.9 93.1,297.9 94.2,297.8 95.2,297.7 96.3,297.2 97.3,296.7 98.3,296.1 99.4,295.5 100.4,295.0 101.4,294.5 102.5,293.9 103.5,293.3 104.5,292.7 105.6,292.0 106.6,291.4 107.7,290.7 108.7,290.0 109.7,289.3 110.8,288.5 111.8,287.7 112.8,286.9 113.9,286.0 114.9,285.1 116.0,284.2 117.0,283.2 118.0,282.2 119.1,281.2 120.1,280.2 121.1,279.1 122.2,278.0 123.2,276.8 124.3,275.7 125.3,274.5 126.3,273.2 127.4,272.0 128.4,270.7 129.4,269.4 130.5,268.1 131.5,266.7 132.5,265.3 133.6,263.9 134.6,262.5 135.7,261.0 136.7,259.6 137.7,258.1 138.8,256.6 139.8,255.0 140.8,253.5 141.9,251.9 142.9,250.3 144.0,248.7 145.0,247.2 146.0,245.6 147.1,244.0 148.1,242.4 149.1,240.8 150.2,239.2 151.2,237.7 152.3,236.1 153.3,234.5 154.3,232.9 155.4,231.3 156.4,229.8 157.4,228.2 158.5,226.6 159.5,225.0 160.5,223.5 161.6,221.9 162.6,220.3 163.7,218.8 164.7,217.2 165.7,215.6 166.8,214.1 167.8,212.5 168.8,211.0 169.9,209.4 170.9,207.9 172.0,206.4 173.0,204.8 174.0,203.3 175.1,201.8 176.1,200.2 177.1,198.7 178.2,197.2 179.2,195.7 180.3,194.2 181.3,192.7 182.3,191.2 183.4,189.7 184.4,188.2 185.4,186.7 186.5,185.2 187.5,183.7 188.5,182.2 189.6,180.7 190.6,179.3 191.7,177.9 192.7,176.5 193.7,175.1 194.8,173.7 195.8,172.4 196.8,171.1 197.9,169.8 198.9,168.5 200.0,167.3 201.0,166.1 202.0,164.9 203.1,163.8 204.1,162.7 205.1,161.6 206.2,160.6 207.2,159.6 208.2,158.7 209.3,157.8 210.3,156.9 211.4,156.1 212.4,155.3 213.4,154.6 214.5,153.9 215.5,153.2 216.5,152.5 217.6,151.9 218.6,151.4 219.7,150.8 220.7,150.3 221.7,149.8 222.8,149.4 223.8,149.0 224.8,148.6 225.9,148.3 226.9,148.0 228.0,147.7 229.0,147.4 230.0,147.2 231.1,147.0 232.1,146.8 233.1,146.7 234.2,146.6 235.2,146.6 236.2,146.5 237.3,146.5 238.3,146.6 239.4,146.7 240.4,146.8 241.4,147.0 242.5,147.2 243.5,147.5 244.5,147.8 245.6,148.1 246.6,148.5 247.7,148.9 248.7,149.3 249.7,149.8 250.8,150.4 251.8,150.9 252.8,151.5 253.9,152.2 254.9,152.9 256.0,153.6 257.0,154.3 258.0,155.1 259.1,156.0 260.1,156.9 261.1,157.8 262.2,158.7 263.2,159.8 264.2,160.8 265.3,161.9 266.3,163.1 267.4,164.3 268.4,165.5 269.4,166.8 270.5,168.2 271.5,169.6 272.5,171.1 273.6,172.6 274.6,174.1 275.7,175.8 276.7,177.4 277.7,179.2 278.8,180.9 279.8,182.7 280.8,184.6 281.9,186.4 282.9,188.3 284.0,190.3 285.0,192.2 286.0,194.1 287.1,196.1 288.1,198.1 289.1,200.0 290.2,202.0 291.2,204.0 292.2,206.0 293.3,207.9 294.3,209.9 295.4,211.9 296.4,213.8 297.4,215.8 298.5,217.7 299.5,219.7 300.5,221.7 301.6,223.6 302.6,225.6 303.7,227.6 304.7,229.5 305.7,231.5 306.8,233.5 307.8,235.5 308.8,237.4 309.9,239.4 310.9,241.4 311.9,243.3 313.0,245.3 314.0,247.2 315.1,249.1 316.1,251.0 317.1,252.9 318.2,254.7 319.2,256.5 320.2,258.3 321.3,260.1 322.3,261.8 323.4,263.5 324.4,265.2 325.4,266.8 326.5,268.4 327.5,270.0 328.5,271.5 329.6,273.0 330.6,274.5 331.7,275.9 332.7,277.3 333.7,278.7 334.8,280.0 335.8,281.3 336.8,282.6 337.9,283.8 338.9,285.0 339.9,286.2 341.0,287.3 342.0,288.4 343.1,289.5 344.1,290.6 345.1,291.6 346.2,292.5 347.2,293.5 348.2,294.4 349.3,295.3 350.3,296.2 351.4,297.0 352.4,297.8 353.4,298.5 354.5,299.3 355.5,300.0 356.5,300.7 357.6,301.3 358.6,301.9 359.7,302.5 360.7,303.1 361.7,303.6 362.8,304.2 363.8,304.6 364.8,305.1 365.9,305.5 366.9,305.9 367.9,306.3 369.0,306.7 370.0,307.0 371.1,307.3 372.1,307.6 373.1,307.8 374.2,308.1 375.2,308.3 376.2,308.5 377.3,308.7 378.3,308.8 379.4,309.0 380.4,309.1 381.4,309.2 382.5,309.3 383.5,309.4 384.5,309.5 385.6,309.6 386.6,309.6 387.7,309.7 388.7,309.7 389.7,309.7 390.8,309.8 391.8,309.8 392.8,309.8 393.9,309.8 394.9,309.8 395.9,309.8 397.0,309.9 398.0,309.9 399.1,309.9 400.1,309.9 401.1,309.9 402.2,309.9 403.2,309.9 404.2,309.9 405.3,309.9 406.3,309.9 407.4,309.9 408.4,309.9 409.4,310.0 410.5,310.0 411.5,310.1 412.5,310.2 413.6,310.2 414.6,310.3 415.6,310.5 416.7,310.6 417.7,310.7" stroke="#62B400"/>
<polyline points="83.8,302.4 84.8,301.3 85.9,300.4 86.9,299.5 88.0,298.7 89.0,298.4 90.0,298.2 91.1,298.1 92.1,298.1 93.1,298.1 94.2,298.1 95.2,298.0 96.3,297.5 97.3,297.0 98.3,296.5 99.4,296.0 100.4,295.5 101.4,295.0 102.5,294.5 103.5,293.9 104.5,293.4 105.6,292.8 106.6,292.2 107.7,291.6 108.7,290.9 109.7,290.3 110.8,289.6 111.8,288.8 112.8,288.1 113.9,287.3 114.9,286.4 116.0,285.6 117.0,284.7 118.0,283.8 119.1,282.8 120.1,281.8 121.1,280.8 122.2,279.8 123.2,278.7 124.3,277.6 125.3,276.5 126.3,275.4 127.4,274.2 128.4,273.0 129.4,271.8 130.5,270.6 131.5,269.3 132.5,268.0 133.6,266.7 134.6,265.4 135.7,264.0 136.7,262.6 137.7,261.3 138.8,259.8 139.8,258.4 140.8,257.0 141.9,255.5 142.9,254.1 144.0,252.6 145.0,251.1 146.0,249.6 147.1,248.1 148.1,246.7 149.1,245.2 150.2,243.7 151.2,242.1 152.3,240.6 153.3,239.1 154.3,237.6 155.4,236.1 156.4,234.6 157.4,233.1 158.5,231.5 159.5,230.0 160.5,228.5 161.6,227.0 162.6,225.5 163.7,224.0 164.7,222.5 165.7,221.0 166.8,219.5 167.8,218.0 168.8,216.5 169.9,215.0 170.9,213.5 172.0,212.1 173.0,210.6 174.0,209.1 175.1,207.7 176.1,206.2 177.1,204.8 178.2,203.4 179.2,202.0 180.3,200.5 181.3,199.1 182.3,197.7 183.4,196.3 184.4,195.0 185.4,193.6 186.5,192.2 187.5,190.9 188.5,189.6 189.6,188.2 190.6,186.9 191.7,185.7 192.7,184.4 193.7,183.2 194.8,182.0 195.8,180.8 196.8,179.6 197.9,178.5 198.9,177.3 200.0,176.2 201.0,175.2 202.0,174.1 203.1,173.1 204.1,172.2 205.1,171.2 206.2,170.3 207.2,169.4 208.2,168.6 209.3,167.8 210.3,167.0 211.4,166.3 212.4,165.6 213.4,164.9 214.5,164.2 215.5,163.6 216.5,163.1 217.6,162.5 218.6,162.0 219.7,161.5 220.7,161.1 221.7,160.7 222.8,160.3 223.8,160.0 224.8,159.7 225.9,159.4 226.9,159.1 228.0,158.9 229.0,158.7 230.0,158.6 231.1,158.4 232.1,158.3 233.1,158.3 234.2,158.2 235.2,158.2 236.2,158.3 237.3,158.4 238.3,158.5 239.4,158.6 240.4,158.8 241.4,159.1 242.5,159.3 243.5,159.6 244.5,160.0 245.6,160.3 246.6,160.7 247.7,161.2 248.7,161.7 249.7,162.2 250.8,162.8 251.8,163.3 252.8,164.0 253.9,164.7 254.9,165.4 256.0,166.1 257.0,166.9 258.0,167.7 259.1,168.6 260.1,169.5 261.1,170.4 262.2,171.4 263.2,172.4 264.2,173.5 265.3,174.6 266.3,175.7 267.4,176.9 268.4,178.2 269.4,179.5 270.5,180.8 271.5,182.2 272.5,183.6 273.6,185.1 274.6,186.6 275.7,188.1 276.7,189.7 277.7,191.3 278.8,193.0 279.8,194.7 280.8,196.4 281.9,198.2 282.9,200.0 284.0,201.7 285.0,203.6 286.0,205.4 287.1,207.2 288.1,209.1 289.1,211.0 290.2,212.8 291.2,214.7 292.2,216.6 293.3,218.4 294.3,220.3 295.4,222.2 296.4,224.1 297.4,225.9 298.5,227.8 299.5,229.7 300.5,231.5 301.6,233.4 302.6,235.2 303.7,237.1 304.7,238.9 305.7,240.8 306.8,242.6 307.8,244.4 308.8,246.2 309.9,248.0 310.9,249.7 311.9,251.5 313.0,253.2 314.0,254.9 315.1,256.6 316.1,258.3 317.1,259.9 318.2,261.6 319.2,263.1 320.2,264.7 321.3,266.3 322.3,267.8 323.4,269.3 324.4,270.7 325.4,272.2 326.5,273.6 327.5,274.9 328.5,276.3 329.6,277.6 330.6,278.9 331.7,280.1 332.7,281.4 333.7,282.6 334.8,283.8 335.8,284.9 336.8,286.0 337.9,287.1 338.9,288.2 339.9,289.2 341.0,290.2 342.0,291.2 343.1,292.1 344.1,293.1 345.1,293.9 346.2,294.8 347.2,295.7 348.2,296.5 349.3,297.3 350.3,298.0 351.4,298.8 352.4,299.5 353.4,300.2 354.5,300.8 355.5,301.4 356.5,302.0 357.6,302.6 358.6,303.2 359.7,303.7 360.7,304.2 361.7,304.7 362.8,305.1 363.8,305.6 364.8,306.0 365.9,306.3 366.9,306.7 367.9,307.0 369.0,307.3 370.0,307.6 371.1,307.8 372.1,308.1 373.1,308.3 374.2,308.5 375.2,308.7 376.2,308.8 377.3,309.0 378.3,309.1 379.4,309.2 380.4,309.3 381.4,309.4 382.5,309.5 383.5,309.6 384.5,309.6 385.6,309.7 386.6,309.7 387.7,309.7 388.7,309.8 389.7,309.8 390.8,309.8 391.8,309.8 392.8,309.8 393.9,309.8 394.9,309.8 395.9,309.8 397.0,309.8 398.0,309.8 399.1,309.8 400.1,309.8 401.1,309.8 402.2,309.8 403.2,309.8 404.2,309.8 405.3,309.9 406.3,309.9 407.4,309.9 408.4,309.9 409.4,309.9 410.5,310.0 411.5,310.0 412.5,310.1 413.6,310.2 414.6,310.3 415.6,310.4 416.7,310.6 417.7,310.7" stroke="#404040"/>
<polyline points="83.8,302.5 84.8,301.4 85.9,300.4 86.9,299.5 88.0,298.8 89.0,298.5 90.0,298.3 91.1,298.2 92.1,298.2 93.1,298.2 94.2,298.2 95.2,298.1 96.3,297.7 97.3,297.2 98.3,296.6 99.4,296.2 100.4,295.7 101.4,295.2 102.5,294.7 103.5,294.2 104.5,293.7 105.6,293.1 106.6,292.6 107.7,292.0 108.7,291.4 109.7,290.7 110.8,290.1 111.8,289.4 112.8,288.6 113.9,287.9 114.9,287.1 116.0,286.2 117.0,285.4 118.0,284.5 119.1,283.6 120.1,282.6 121.1,281.7 122.2,280.7 123.2,279.6 124.3,278.6 125.3,277.5 126.3,276.4 127.4,275.3 128.4,274.1 129.4,272.9 130.5,271.7 131.5,270.5 132.5,269.2 133.6,268.0 134.6,266.7 135.7,265.4 136.7,264.1 137.7,262.7 138.8,261.4 139.8,260.0 140.8,258.6 141.9,257.2 142.9,255.8 144.0,254.4 145.0,253.0 146.0,251.5 147.1,250.1 148.1,248.6 149.1,247.2 150.2,245.7 151.2,244.2 152.3,242.8 153.3,241.3 154.3,239.8 155.4,238.3 156.4,236.8 157.4,235.3 158.5,233.9 159.5,232.4 160.5,230.9 161.6,229.4 162.6,227.9 163.7,226.4 164.7,225.0 165.7,223.5 166.8,222.0 167.8,220.5 168.8,219.1 169.9,217.6 170.9,216.2 172.0,214.7 173.0,213.3 174.0,211.9 175.1,210.5 176.1,209.0 177.1,207.6 178.2,206.3 179.2,204.9 180.3,203.5 181.3,202.1 182.3,200.8 183.4,199.5 184.4,198.1 185.4,196.8 186.5,195.5 187.5,194.3 188.5,193.0 189.6,191.7 190.6,190.5 191.7,189.3 192.7,188.1 193.7,186.9 194.8,185.8 195.8,184.7 196.8,183.6 197.9,182.5 198.9,181.4 200.0,180.4 201.0,179.4 202.0,178.4 203.1,177.5 204.1,176.6 205.1,175.7 206.2,174.8 207.2,174.0 208.2,173.2 209.3,172.4 210.3,171.7 211.4,171.0 212.4,170.3 213.4,169.7 214.5,169.1 215.5,168.5 216.5,168.0 217.6,167.5 218.6,167.0 219.7,166.5 220.7,166.1 221.7,165.7 222.8,165.4 223.8,165.1 224.8,164.8 225.9,164.5 226.9,164.3 228.0,164.1 229.0,164.0 230.0,163.8 231.1,163.8 232.1,163.7 233.1,163.7 234.2,163.7 235.2,163.7 236.2,163.8 237.3,163.9 238.3,164.0 239.4,164.2 240.4,164.4 241.4,164.7 242.5,165.0 243.5,165.3 244.5,165.6 245.6,166.0 246.6,166.5 247.7,166.9 248.7,167.4 249.7,168.0 250.8,168.5 251.8,169.1 252.8,169.8 253.9,170.5 254.9,171.2 256.0,172.0 257.0,172.8 258.0,173.6 259.1,174.5 260.1,175.4 261.1,176.3 262.2,177.3 263.2,178.3 264.2,179.4 265.3,180.5 266.3,181.7 267.4,182.9 268.4,184.1 269.4,185.4 270.5,186.7 271.5,188.0 272.5,189.4 273.6,190.9 274.6,192.4 275.7,193.9 276.7,195.4 277.7,197.0 278.8,198.6 279.8,200.3 280.8,202.0 281.9,203.7 282.9,205.4 284.0,207.1 285.0,208.9 286.0,210.6 287.1,212.4 288.1,214.2 289.1,216.0 290.2,217.9 291.2,219.7 292.2,221.5 293.3,223.3 294.3,225.2 295.4,227.0 296.4,228.8 297.4,230.7 298.5,232.5 299.5,234.3 300.5,236.1 301.6,237.9 302.6,239.7 303.7,241.5 304.7,243.3 305.7,245.1 306.8,246.8 307.8,248.6 308.8,250.3 309.9,252.0 310.9,253.6 311.9,255.3 313.0,256.9 314.0,258.5 315.1,260.1 316.1,261.7 317.1,263.2 318.2,264.8 319.2,266.2 320.2,267.7 321.3,269.1 322.3,270.6 323.4,271.9 324.4,273.3 325.4,274.6 326.5,276.0 327.5,277.2 328.5,278.5 329.6,279.7 330.6,280.9 331.7,282.1 332.7,283.3 333.7,284.4 334.8,285.5 335.8,286.6 336.8,287.6 337.9,288.6 338.9,289.6 339.9,290.6 341.0,291.5 342.0,292.5 343.1,293.4 344.1,294.2 345.1,295.1 346.2,295.9 347.2,296.7 348.2,297.4 349.3,298.2 350.3,298.9 351.4,299.6 352.4,300.3 353.4,300.9 354.5,301.5 355.5,302.1 356.5,302.7 357.6,303.2 358.6,303.7 359.7,304.2 360.7,304.7 361.7,305.2 362.8,305.6 363.8,306.0 364.8,306.4 365.9,306.7 366.9,307.0 367.9,307.3 369.0,307.6 370.0,307.9 371.1,308.1 372.1,308.3 373.1,308.5 374.2,308.7 375.2,308.9 376.2,309.0 377.3,309.2 378.3,309.3 379.4,309.4 380.4,309.5 381.4,309.5 382.5,309.6 383.5,309.6 384.5,309.7 385.6,309.7 386.6,309.8 387.7,309.8 388.7,309.8 389.7,309.8 390.8,309.8 391.8,309.8 392.8,309.8 393.9,309.8 394.9,309.8 395.9,309.8 397.0,309.8 398.0,309.8 399.1,309.8 400.1,309.8 401.1,309.8 402.2,309.8 403.2,309.8 404.2,309.8 405.3,309.8 406.3,309.8 407.4,309.8 408.4,309.8 409.4,309.9 410.5,309.9 411.5,310.0 412.5,310.1 413.6,310.2 414.6,310.3 415.6,310.4 416.7,310.6 417.7,310.7" stroke="#F03030"/>
<polyline points="83.8,302.5 84.8,301.4 85.9,300.5 86.9,299.6 88.0,298.9 89.0,298.6 90.0,298.4 91.1,298.3 92.1,298.3 93.1,298.3 94.2,298.3 95.2,298.2 96.3,297.8 97.3,297.3 98.3,296.8 99.4,296.4 100.4,295.9 101.4,295.4 102.5,295.0 103.5,294.5 104.5,294.0 105.6,293.4 106.6,292.9 107.7,292.3 108.7,291.7 109.7,291.1 110.8,290.5 111.8,289.8 112.8,289.1 113.9,288.3 114.9,287.6 116.0,286.8 117.0,285.9 118.0,285.1 119.1,284.2 120.1,283.3 121.1,282.3 122.2,281.3 123.2,280.3 124.3,279.3 125.3,278.3 126.3,277.2 127.4,276.1 128.4,275.0 129.4,273.8 130.5,272.6 131.5,271.5 132.5,270.2 133.6,269.0 134.6,267.8 135.7,266.5 136.7,265.2 137.7,263.9 138.8,262.6 139.8,261.3 140.8,259.9 141.9,258.6 142.9,257.2 144.0,255.8 145.0,254.4 146.0,253.0 147.1,251.6 148.1,250.2 149.1,248.8 150.2,247.4 151.2,245.9 152.3,244.5 153.3,243.0 154.3,241.6 155.4,240.1 156.4,238.6 157.4,237.2 158.5,235.7 159.5,234.2 160.5,232.8 161.6,231.3 162.6,229.8 163.7,228.4 164.7,226.9 165.7,225.5 166.8,224.0 167.8,222.6 168.8,221.1 169.9,219.7 170.9,218.3 172.0,216.9 173.0,215.5 174.0,214.1 175.1,212.7 176.1,211.3 177.1,209.9 178.2,208.6 179.2,207.2 180.3,205.9 181.3,204.6 182.3,203.3 183.4,202.0 184.4,200.7 185.4,199.4 186.5,198.2 187.5,196.9 188.5,195.7 189.6,194.5 190.6,193.4 191.7,192.2 192.7,191.1 193.7,190.0 194.8,188.9 195.8,187.8 196.8,186.7 197.9,185.7 198.9,184.7 200.0,183.7 201.0,182.8 202.0,181.9 203.1,181.0 204.1,180.1 205.1,179.2 206.2,178.4 207.2,177.6 208.2,176.9 209.3,176.1 210.3,175.4 211.4,174.8 212.4,174.1 213.4,173.5 214.5,173.0 215.5,172.4 216.5,171.9 217.6,171.4 218.6,171.0 219.7,170.5 220.7,170.1 221.7,169.8 222.8,169.5 223.8,169.2 224.8,168.9 225.9,168.7 226.9,168.5 228.0,168.3 229.0,168.2 230.0,168.1 231.1,168.0 232.1,168.0 233.1,168.0 234.2,168.0 235.2,168.1 236.2,168.2 237.3,168.3 238.3,168.5 239.4,168.7 240.4,168.9 241.4,169.2 242.5,169.5 243.5,169.8 244.5,170.2 245.6,170.6 246.6,171.0 247.7,171.5 248.7,172.0 249.7,172.6 250.8,173.2 251.8,173.8 252.8,174.4 253.9,175.1 254.9,175.9 256.0,176.6 257.0,177.4 258.0,178.3 259.1,179.2 260.1,180.1 261.1,181.0 262.2,182.0 263.2,183.1 264.2,184.1 265.3,185.2 266.3,186.4 267.4,187.6 268.4,188.8 269.4,190.1 270.5,191.4 271.5,192.7 272.5,194.1 273.6,195.5 274.6,197.0 275.7,198.5 276.7,200.0 277.7,201.6 278.8,203.1 279.8,204.7 280.8,206.4 281.9,208.0 282.9,209.7 284.0,211.4 285.0,213.1 286.0,214.8 287.1,216.6 288.1,218.3 289.1,220.1 290.2,221.9 291.2,223.7 292.2,225.5 293.3,227.3 294.3,229.1 295.4,230.9 296.4,232.7 297.4,234.5 298.5,236.2 299.5,238.0 300.5,239.8 301.6,241.6 302.6,243.3 303.7,245.1 304.7,246.8 305.7,248.5 306.8,250.2 307.8,251.9 308.8,253.5 309.9,255.2 310.9,256.8 311.9,258.4 313.0,259.9 314.0,261.4 315.1,262.9 316.1,264.4 317.1,265.9 318.2,267.3 319.2,268.7 320.2,270.1 321.3,271.5 322.3,272.8 323.4,274.1 324.4,275.4 325.4,276.6 326.5,277.9 327.5,279.1 328.5,280.3 329.6,281.4 330.6,282.6 331.7,283.7 332.7,284.8 333.7,285.8 334.8,286.9 335.8,287.9 336.8,288.9 337.9,289.8 338.9,290.8 339.9,291.7 341.0,292.6 342.0,293.5 343.1,294.3 344.1,295.2 345.1,296.0 346.2,296.7 347.2,297.5 348.2,298.2 349.3,298.9 350.3,299.6 351.4,300.3 352.4,300.9 353.4,301.5 354.5,302.1 355.5,302.6 356.5,303.2 357.6,303.7 358.6,304.2 359.7,304.7 360.7,305.1 361.7,305.5 362.8,305.9 363.8,306.3 364.8,306.7 365.9,307.0 366.9,307.3 367.9,307.6 369.0,307.9 370.0,308.1 371.1,308.3 372.1,308.5 373.1,308.7 374.2,308.9 375.2,309.0 376.2,309.2 377.3,309.3 378.3,309.4 379.4,309.5 380.4,309.5 381.4,309.6 382.5,309.7 383.5,309.7 384.5,309.7 385.6,309.8 386.6,309.8 387.7,309.8 388.7,309.8 389.7,309.8 390.8,309.8 391.8,309.8 392.8,309.8 393.9,309.8 394.9,309.8 395.9,309.8 397.0,309.8 398.0,309.8 399.1,309.8 400.1,309.8 401.1,309.8 402.2,309.8 403.2,309.8 404.2,309.8 405.3,309.8 406.3,309.8 407.4,309.8 408.4,309.8 409.4,309.8 410.5,309.9 411.5,310.0 412.5,310.1 413.6,310.2 414.6,310.3 415.6,310.4 416.7,310.6 417.7,310.7" stroke="#1560E8"/>
</g>
<g stroke="#000" stroke-width="2.6" fill="none">
<rect x="83.2" y="11.3" width="456.0" height="300.3"/>
<line x1="74.5" y1="311.5" x2="83.2" y2="311.5"/>
<line x1="78.2" y1="291.5" x2="83.2" y2="291.5"/>
<line x1="74.5" y1="271.5" x2="83.2" y2="271.5"/>
<line x1="78.2" y1="251.5" x2="83.2" y2="251.5"/>
<line x1="74.5" y1="231.5" x2="83.2" y2="231.5"/>
<line x1="78.2" y1="211.5" x2="83.2" y2="211.5"/>
<line x1="74.5" y1="191.5" x2="83.2" y2="191.5"/>
<line x1="78.2" y1="171.5" x2="83.2" y2="171.5"/>
<line x1="74.5" y1="151.5" x2="83.2" y2="151.5"/>
<line x1="78.2" y1="131.5" x2="83.2" y2="131.5"/>
<line x1="74.5" y1="111.5" x2="83.2" y2="111.5"/>
<line x1="78.2" y1="91.5" x2="83.2" y2="91.5"/>
<line x1="74.5" y1="71.5" x2="83.2" y2="71.5"/>
<line x1="78.2" y1="51.5" x2="83.2" y2="51.5"/>
<line x1="74.5" y1="31.5" x2="83.2" y2="31.5"/>
<line x1="78.2" y1="11.5" x2="83.2" y2="11.5"/>
<line x1="103.7" y1="311.6" x2="103.7" y2="315.8"/>
<line x1="145.2" y1="311.6" x2="145.2" y2="321.0"/>
<line x1="186.7" y1="311.6" x2="186.7" y2="315.8"/>
<line x1="228.2" y1="311.6" x2="228.2" y2="321.0"/>
<line x1="269.6" y1="311.6" x2="269.6" y2="315.8"/>
<line x1="311.1" y1="311.6" x2="311.1" y2="321.0"/>
<line x1="352.6" y1="311.6" x2="352.6" y2="315.8"/>
<line x1="394.1" y1="311.6" x2="394.1" y2="321.0"/>
<line x1="435.6" y1="311.6" x2="435.6" y2="315.8"/>
<line x1="477.0" y1="311.6" x2="477.0" y2="321.0"/>
<line x1="518.5" y1="311.6" x2="518.5" y2="315.8"/>
</g>
<g font-size="29.5"><text x="67.8" y="320.0" text-anchor="end">0</text><text x="67.8" y="280.0" text-anchor="end">2</text><text x="67.8" y="240.0" text-anchor="end">4</text><text x="67.8" y="200.0" text-anchor="end">6</text><text x="67.8" y="160.0" text-anchor="end">8</text><text x="67.8" y="120.0" text-anchor="end">10</text><text x="67.8" y="80.0" text-anchor="end">12</text><text x="67.8" y="40.0" text-anchor="end">14</text><text x="145.4" y="347.3" text-anchor="middle">1.6</text><text x="228.4" y="347.3" text-anchor="middle">2.0</text><text x="311.3" y="347.3" text-anchor="middle">2.4</text><text x="394.3" y="347.3" text-anchor="middle">2.8</text><text x="477.2" y="347.3" text-anchor="middle">3.2</text>
<text x="310.6" y="377" text-anchor="middle" font-size="29.8">Energy, eV</text>
<text transform="translate(29.4,161.8) rotate(-90)" text-anchor="middle" font-size="30.1">Intensity, arb. un.</text>
</g>
<g font-size="41.7">
<text x="405.5" y="72.4">84 K</text>
<text x="401.3" y="275.4">306 K</text>
</g>
<line x1="449.3" y1="83.2" x2="449.3" y2="200" stroke="#000" stroke-width="2.7"/>
<polygon points="440,197.8 458.4,197.8 449.3,234.8" fill="#000"/>
</svg>
</body></html>
